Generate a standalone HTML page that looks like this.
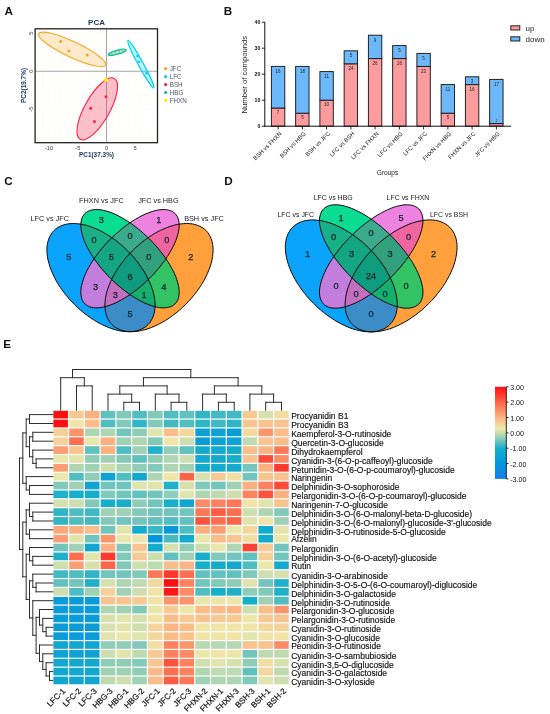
<!DOCTYPE html>
<html><head><meta charset="utf-8"><title>Figure</title>
<style>
html,body{margin:0;padding:0;background:#fff;}
svg{display:block;font-family:"Liberation Sans",sans-serif;}
</style></head><body>
<svg width="550" height="714" viewBox="0 0 550 714">
<rect width="550" height="714" fill="#fff"/>
<g id="pca">
<line x1="37.5" y1="28.8" x2="37.5" y2="142.7" stroke="#fffbee" stroke-width="0.6"/>
<line x1="43.2" y1="28.8" x2="43.2" y2="142.7" stroke="#fffbee" stroke-width="0.6"/>
<line x1="49.0" y1="28.8" x2="49.0" y2="142.7" stroke="#fffbee" stroke-width="0.6"/>
<line x1="54.8" y1="28.8" x2="54.8" y2="142.7" stroke="#fffbee" stroke-width="0.6"/>
<line x1="60.5" y1="28.8" x2="60.5" y2="142.7" stroke="#fffbee" stroke-width="0.6"/>
<line x1="66.2" y1="28.8" x2="66.2" y2="142.7" stroke="#fffbee" stroke-width="0.6"/>
<line x1="72.0" y1="28.8" x2="72.0" y2="142.7" stroke="#fffbee" stroke-width="0.6"/>
<line x1="77.8" y1="28.8" x2="77.8" y2="142.7" stroke="#fffbee" stroke-width="0.6"/>
<line x1="83.5" y1="28.8" x2="83.5" y2="142.7" stroke="#fffbee" stroke-width="0.6"/>
<line x1="89.2" y1="28.8" x2="89.2" y2="142.7" stroke="#fffbee" stroke-width="0.6"/>
<line x1="95.0" y1="28.8" x2="95.0" y2="142.7" stroke="#fffbee" stroke-width="0.6"/>
<line x1="100.8" y1="28.8" x2="100.8" y2="142.7" stroke="#fffbee" stroke-width="0.6"/>
<line x1="112.2" y1="28.8" x2="112.2" y2="142.7" stroke="#fffbee" stroke-width="0.6"/>
<line x1="118.0" y1="28.8" x2="118.0" y2="142.7" stroke="#fffbee" stroke-width="0.6"/>
<line x1="123.8" y1="28.8" x2="123.8" y2="142.7" stroke="#fffbee" stroke-width="0.6"/>
<line x1="129.5" y1="28.8" x2="129.5" y2="142.7" stroke="#fffbee" stroke-width="0.6"/>
<line x1="135.2" y1="28.8" x2="135.2" y2="142.7" stroke="#fffbee" stroke-width="0.6"/>
<line x1="141.0" y1="28.8" x2="141.0" y2="142.7" stroke="#fffbee" stroke-width="0.6"/>
<line x1="146.8" y1="28.8" x2="146.8" y2="142.7" stroke="#fffbee" stroke-width="0.6"/>
<line x1="152.5" y1="28.8" x2="152.5" y2="142.7" stroke="#fffbee" stroke-width="0.6"/>
<line x1="35.1" y1="139.6" x2="157.5" y2="139.6" stroke="#fffbee" stroke-width="0.6"/>
<line x1="35.1" y1="132.0" x2="157.5" y2="132.0" stroke="#fffbee" stroke-width="0.6"/>
<line x1="35.1" y1="124.4" x2="157.5" y2="124.4" stroke="#fffbee" stroke-width="0.6"/>
<line x1="35.1" y1="116.8" x2="157.5" y2="116.8" stroke="#fffbee" stroke-width="0.6"/>
<line x1="35.1" y1="109.2" x2="157.5" y2="109.2" stroke="#fffbee" stroke-width="0.6"/>
<line x1="35.1" y1="101.6" x2="157.5" y2="101.6" stroke="#fffbee" stroke-width="0.6"/>
<line x1="35.1" y1="94.0" x2="157.5" y2="94.0" stroke="#fffbee" stroke-width="0.6"/>
<line x1="35.1" y1="86.4" x2="157.5" y2="86.4" stroke="#fffbee" stroke-width="0.6"/>
<line x1="35.1" y1="78.8" x2="157.5" y2="78.8" stroke="#fffbee" stroke-width="0.6"/>
<line x1="35.1" y1="63.6" x2="157.5" y2="63.6" stroke="#fffbee" stroke-width="0.6"/>
<line x1="35.1" y1="56.0" x2="157.5" y2="56.0" stroke="#fffbee" stroke-width="0.6"/>
<line x1="35.1" y1="48.4" x2="157.5" y2="48.4" stroke="#fffbee" stroke-width="0.6"/>
<line x1="35.1" y1="40.8" x2="157.5" y2="40.8" stroke="#fffbee" stroke-width="0.6"/>
<line x1="35.1" y1="33.2" x2="157.5" y2="33.2" stroke="#fffbee" stroke-width="0.6"/>
<line x1="106.5" y1="28.8" x2="106.5" y2="142.7" stroke="#a6a6a6" stroke-width="1.1"/>
<line x1="35.1" y1="71.2" x2="157.5" y2="71.2" stroke="#a6a6a6" stroke-width="1.1"/>
<ellipse cx="72.1" cy="49.4" rx="36.9" ry="7.8" transform="rotate(25.2 72.1 49.4)" fill="rgba(250,170,50,0.25)" stroke="#f5a623" stroke-width="1.1"/>
<ellipse cx="97.25" cy="108.85" rx="34.9" ry="12.5" transform="rotate(-60.6 97.25 108.85)" fill="rgba(245,60,90,0.32)" stroke="#ff1f4b" stroke-width="1.1"/>
<ellipse cx="140.9" cy="64.3" rx="27" ry="2.5" transform="rotate(61.4 140.9 64.3)" fill="rgba(0,210,245,0.25)" stroke="#00d2f5" stroke-width="1.2"/>
<ellipse cx="117.3" cy="52.3" rx="9.2" ry="2.0" transform="rotate(-15.3 117.3 52.3)" fill="rgba(23,184,144,0.55)" stroke="#17b890" stroke-width="1.3"/>
<circle cx="60.7" cy="41.6" r="1.5" fill="#f7a325"/>
<circle cx="68.9" cy="51.1" r="1.5" fill="#f7a325"/>
<circle cx="87.2" cy="54.9" r="1.5" fill="#f7a325"/>
<circle cx="106" cy="96.8" r="1.5" fill="#ff1f4b"/>
<circle cx="90.7" cy="108.3" r="1.5" fill="#ff1f4b"/>
<circle cx="94.5" cy="121.6" r="1.5" fill="#ff1f4b"/>
<circle cx="137.5" cy="56.1" r="1.3" fill="#00d2f5"/>
<circle cx="139.1" cy="61.8" r="1.3" fill="#00d2f5"/>
<circle cx="146.5" cy="73.3" r="1.3" fill="#00d2f5"/>
<circle cx="113.5" cy="53.3" r="0.9" fill="#d9f5ec"/>
<circle cx="117.3" cy="52.3" r="0.9" fill="#d9f5ec"/>
<circle cx="121" cy="51.3" r="0.9" fill="#d9f5ec"/>
<circle cx="106" cy="79.8" r="2.0" fill="#ffee00"/>
<rect x="35.1" y="28.8" width="122.4" height="113.89999999999999" fill="none" stroke="#222" stroke-width="1.3"/>
<text x="49.0" y="149.8" font-size="5.7" text-anchor="middle" fill="#333">-10</text>
<text x="77.8" y="149.8" font-size="5.7" text-anchor="middle" fill="#333">-5</text>
<text x="106.5" y="149.8" font-size="5.7" text-anchor="middle" fill="#333">0</text>
<text x="135.2" y="149.8" font-size="5.7" text-anchor="middle" fill="#333">5</text>
<text transform="translate(33.3,109.2) rotate(-90)" font-size="5.7" text-anchor="middle" fill="#333">-5</text>
<text transform="translate(33.3,71.2) rotate(-90)" font-size="5.7" text-anchor="middle" fill="#333">0</text>
<text transform="translate(33.3,33.2) rotate(-90)" font-size="5.7" text-anchor="middle" fill="#333">5</text>
<text x="96.5" y="24.5" font-size="8" font-weight="bold" text-anchor="middle" fill="#1f3864">PCA</text>
<text x="96.5" y="157.3" font-size="6.45" font-weight="bold" text-anchor="middle" fill="#1f3864">PC1(37.3%)</text>
<text transform="translate(26.1,85.5) rotate(-90)" font-size="6.45" font-weight="bold" text-anchor="middle" fill="#1f3864">PC2(19.7%)</text>
<circle cx="165.6" cy="68.7" r="1.6" fill="#f7a325"/>
<text x="169.7" y="71.0" font-size="6.3" fill="#4a5a75">JFC</text>
<circle cx="165.6" cy="76.7" r="1.6" fill="#00d2f5"/>
<text x="169.7" y="79.0" font-size="6.3" fill="#4a5a75">LFC</text>
<circle cx="165.6" cy="84.6" r="1.6" fill="#ff1f4b"/>
<text x="169.7" y="86.9" font-size="6.3" fill="#4a5a75">BSH</text>
<circle cx="165.6" cy="92.5" r="1.6" fill="#17b890"/>
<text x="169.7" y="94.8" font-size="6.3" fill="#4a5a75">HBG</text>
<circle cx="165.6" cy="100.4" r="1.6" fill="#ffee00"/>
<text x="169.7" y="102.7" font-size="6.3" fill="#4a5a75">FHXN</text>
</g>
<g id="bar">
<rect x="271.40" y="108.00" width="13.4" height="18.20" fill="#fd9c9f" stroke="#1a1a1a" stroke-width="0.95"/>
<rect x="271.40" y="66.40" width="13.4" height="41.60" fill="#6db8fa" stroke="#1a1a1a" stroke-width="0.95"/>
<text x="278.1" y="114.1" font-size="4.5" text-anchor="middle" fill="#222">7</text>
<text x="278.1" y="72.8" font-size="4.5" text-anchor="middle" fill="#222">16</text>
<line x1="278.1" y1="126.2" x2="278.1" y2="129.4" stroke="#111" stroke-width="0.9"/>
<text transform="translate(282.0,134.1) rotate(-45)" font-size="5.9" text-anchor="end" fill="#222">BSH vs FHXN</text>
<rect x="295.65" y="113.20" width="13.4" height="13.00" fill="#fd9c9f" stroke="#1a1a1a" stroke-width="0.95"/>
<rect x="295.65" y="66.40" width="13.4" height="46.80" fill="#6db8fa" stroke="#1a1a1a" stroke-width="0.95"/>
<text x="302.4" y="119.3" font-size="4.5" text-anchor="middle" fill="#222">5</text>
<text x="302.4" y="72.8" font-size="4.5" text-anchor="middle" fill="#222">18</text>
<line x1="302.4" y1="126.2" x2="302.4" y2="129.4" stroke="#111" stroke-width="0.9"/>
<text transform="translate(306.2,134.1) rotate(-45)" font-size="5.9" text-anchor="end" fill="#222">BSH vs HBG</text>
<rect x="319.90" y="100.20" width="13.4" height="26.00" fill="#fd9c9f" stroke="#1a1a1a" stroke-width="0.95"/>
<rect x="319.90" y="71.60" width="13.4" height="28.60" fill="#6db8fa" stroke="#1a1a1a" stroke-width="0.95"/>
<text x="326.6" y="106.3" font-size="4.5" text-anchor="middle" fill="#222">10</text>
<text x="326.6" y="78.0" font-size="4.5" text-anchor="middle" fill="#222">11</text>
<line x1="326.6" y1="126.2" x2="326.6" y2="129.4" stroke="#111" stroke-width="0.9"/>
<text transform="translate(330.5,134.1) rotate(-45)" font-size="5.9" text-anchor="end" fill="#222">BSH vs JFC</text>
<rect x="344.15" y="63.80" width="13.4" height="62.40" fill="#fd9c9f" stroke="#1a1a1a" stroke-width="0.95"/>
<rect x="344.15" y="50.80" width="13.4" height="13.00" fill="#6db8fa" stroke="#1a1a1a" stroke-width="0.95"/>
<text x="350.9" y="69.9" font-size="4.5" text-anchor="middle" fill="#222">24</text>
<text x="350.9" y="57.2" font-size="4.5" text-anchor="middle" fill="#222">5</text>
<line x1="350.9" y1="126.2" x2="350.9" y2="129.4" stroke="#111" stroke-width="0.9"/>
<text transform="translate(354.8,134.1) rotate(-45)" font-size="5.9" text-anchor="end" fill="#222">LFC vs BSH</text>
<rect x="368.40" y="58.60" width="13.4" height="67.60" fill="#fd9c9f" stroke="#1a1a1a" stroke-width="0.95"/>
<rect x="368.40" y="35.20" width="13.4" height="23.40" fill="#6db8fa" stroke="#1a1a1a" stroke-width="0.95"/>
<text x="375.1" y="64.7" font-size="4.5" text-anchor="middle" fill="#222">26</text>
<text x="375.1" y="41.6" font-size="4.5" text-anchor="middle" fill="#222">9</text>
<line x1="375.1" y1="126.2" x2="375.1" y2="129.4" stroke="#111" stroke-width="0.9"/>
<text transform="translate(379.0,134.1) rotate(-45)" font-size="5.9" text-anchor="end" fill="#222">LFC vs FHXN</text>
<rect x="392.65" y="58.60" width="13.4" height="67.60" fill="#fd9c9f" stroke="#1a1a1a" stroke-width="0.95"/>
<rect x="392.65" y="45.60" width="13.4" height="13.00" fill="#6db8fa" stroke="#1a1a1a" stroke-width="0.95"/>
<text x="399.4" y="64.7" font-size="4.5" text-anchor="middle" fill="#222">26</text>
<text x="399.4" y="52.0" font-size="4.5" text-anchor="middle" fill="#222">5</text>
<line x1="399.4" y1="126.2" x2="399.4" y2="129.4" stroke="#111" stroke-width="0.9"/>
<text transform="translate(403.2,134.1) rotate(-45)" font-size="5.9" text-anchor="end" fill="#222">LFC vs HBG</text>
<rect x="416.90" y="66.40" width="13.4" height="59.80" fill="#fd9c9f" stroke="#1a1a1a" stroke-width="0.95"/>
<rect x="416.90" y="53.40" width="13.4" height="13.00" fill="#6db8fa" stroke="#1a1a1a" stroke-width="0.95"/>
<text x="423.6" y="72.5" font-size="4.5" text-anchor="middle" fill="#222">23</text>
<text x="423.6" y="59.8" font-size="4.5" text-anchor="middle" fill="#222">5</text>
<line x1="423.6" y1="126.2" x2="423.6" y2="129.4" stroke="#111" stroke-width="0.9"/>
<text transform="translate(427.5,134.1) rotate(-45)" font-size="5.9" text-anchor="end" fill="#222">LFC vs JFC</text>
<rect x="441.15" y="113.20" width="13.4" height="13.00" fill="#fd9c9f" stroke="#1a1a1a" stroke-width="0.95"/>
<rect x="441.15" y="84.60" width="13.4" height="28.60" fill="#6db8fa" stroke="#1a1a1a" stroke-width="0.95"/>
<text x="447.9" y="119.3" font-size="4.5" text-anchor="middle" fill="#222">5</text>
<text x="447.9" y="91.0" font-size="4.5" text-anchor="middle" fill="#222">11</text>
<line x1="447.9" y1="126.2" x2="447.9" y2="129.4" stroke="#111" stroke-width="0.9"/>
<text transform="translate(451.8,134.1) rotate(-45)" font-size="5.9" text-anchor="end" fill="#222">FHXN vs HBG</text>
<rect x="465.40" y="84.60" width="13.4" height="41.60" fill="#fd9c9f" stroke="#1a1a1a" stroke-width="0.95"/>
<rect x="465.40" y="76.80" width="13.4" height="7.80" fill="#6db8fa" stroke="#1a1a1a" stroke-width="0.95"/>
<text x="472.1" y="90.7" font-size="4.5" text-anchor="middle" fill="#222">16</text>
<text x="472.1" y="83.2" font-size="4.5" text-anchor="middle" fill="#222">3</text>
<line x1="472.1" y1="126.2" x2="472.1" y2="129.4" stroke="#111" stroke-width="0.9"/>
<text transform="translate(476.0,134.1) rotate(-45)" font-size="5.9" text-anchor="end" fill="#222">FHXN vs JFC</text>
<rect x="489.65" y="123.60" width="13.4" height="2.60" fill="#fd9c9f" stroke="#1a1a1a" stroke-width="0.95"/>
<rect x="489.65" y="79.40" width="13.4" height="44.20" fill="#6db8fa" stroke="#1a1a1a" stroke-width="0.95"/>
<text x="496.4" y="122.4" font-size="3.4" text-anchor="middle" fill="#222">1</text>
<text x="496.4" y="85.8" font-size="4.5" text-anchor="middle" fill="#222">17</text>
<line x1="496.4" y1="126.2" x2="496.4" y2="129.4" stroke="#111" stroke-width="0.9"/>
<text transform="translate(500.2,134.1) rotate(-45)" font-size="5.9" text-anchor="end" fill="#222">JFC vs HBG</text>
<line x1="264.8" y1="22" x2="264.8" y2="126.7" stroke="#111" stroke-width="1"/>
<line x1="264.3" y1="126.2" x2="511" y2="126.2" stroke="#111" stroke-width="1"/>
<line x1="261.8" y1="126.2" x2="264.8" y2="126.2" stroke="#111" stroke-width="0.9"/>
<text x="260.40000000000003" y="128.0" font-size="5.2" font-weight="bold" text-anchor="end" fill="#111">0</text>
<line x1="261.8" y1="100.2" x2="264.8" y2="100.2" stroke="#111" stroke-width="0.9"/>
<text x="260.40000000000003" y="102.0" font-size="5.2" font-weight="bold" text-anchor="end" fill="#111">10</text>
<line x1="261.8" y1="74.2" x2="264.8" y2="74.2" stroke="#111" stroke-width="0.9"/>
<text x="260.40000000000003" y="76.0" font-size="5.2" font-weight="bold" text-anchor="end" fill="#111">20</text>
<line x1="261.8" y1="48.2" x2="264.8" y2="48.2" stroke="#111" stroke-width="0.9"/>
<text x="260.40000000000003" y="50.0" font-size="5.2" font-weight="bold" text-anchor="end" fill="#111">30</text>
<line x1="261.8" y1="22.2" x2="264.8" y2="22.2" stroke="#111" stroke-width="0.9"/>
<text x="260.40000000000003" y="24.0" font-size="5.2" font-weight="bold" text-anchor="end" fill="#111">40</text>
<text transform="translate(247.2,74.7) rotate(-90)" font-size="7.7" text-anchor="middle" fill="#222">Number of compounds</text>
<text x="387.5" y="174.5" font-size="6.5" text-anchor="middle" fill="#222">Groups</text>
<rect x="510.8" y="25.8" width="9" height="4.2" fill="#fd9c9f" stroke="#1a1a1a" stroke-width="0.95"/>
<rect x="510.8" y="36.8" width="9" height="4.2" fill="#6db8fa" stroke="#1a1a1a" stroke-width="0.95"/>
<text x="525.5" y="30.7" font-size="8" fill="#222">up</text>
<text x="525.5" y="41.8" font-size="8" fill="#222">down</text>
</g>
<g id="vc">
<defs>
<clipPath id="vcc0"><path d="M148.0 324.6 L146.2 326.3 L144.1 327.7 L141.9 328.9 L139.5 329.9 L136.9 330.7 L134.2 331.3 L131.4 331.6 L128.4 331.7 L125.2 331.5 L122.0 331.2 L118.7 330.6 L115.4 329.8 L111.9 328.7 L108.4 327.4 L104.9 325.9 L101.4 324.3 L97.8 322.4 L94.3 320.3 L90.8 318.0 L87.4 315.6 L84.0 313.0 L80.6 310.2 L77.4 307.3 L74.3 304.3 L71.3 301.2 L68.4 298.0 L65.6 294.6 L63.0 291.2 L60.6 287.8 L58.3 284.3 L56.2 280.8 L54.3 277.2 L52.7 273.7 L51.2 270.2 L49.9 266.7 L48.9 263.2 L48.0 259.9 L47.4 256.6 L47.1 253.4 L46.9 250.2 L47.0 247.2 L47.3 244.4 L47.9 241.7 L48.7 239.1 L49.7 236.7 L50.9 234.5 L52.3 232.4 L54.0 230.6 L55.8 228.9 L57.9 227.5 L60.1 226.3 L62.5 225.3 L65.1 224.5 L67.8 223.9 L70.6 223.6 L73.6 223.5 L76.8 223.7 L80.0 224.0 L83.3 224.6 L86.6 225.5 L90.1 226.5 L93.6 227.8 L97.1 229.3 L100.6 230.9 L104.2 232.8 L107.7 234.9 L111.2 237.2 L114.6 239.6 L118.0 242.2 L121.4 245.0 L124.6 247.9 L127.7 250.9 L130.7 254.0 L133.6 257.2 L136.4 260.6 L139.0 264.0 L141.4 267.4 L143.7 270.9 L145.8 274.4 L147.7 278.0 L149.3 281.5 L150.8 285.0 L152.1 288.5 L153.2 292.0 L154.0 295.3 L154.6 298.6 L154.9 301.8 L155.1 305.0 L155.0 308.0 L154.7 310.8 L154.1 313.5 L153.3 316.1 L152.3 318.5 L151.1 320.7 L149.7 322.8Z"/></clipPath>
<clipPath id="vcc1"><path d="M175.1 303.8 L173.7 305.0 L172.2 306.0 L170.4 306.8 L168.5 307.3 L166.4 307.7 L164.2 307.9 L161.8 307.8 L159.3 307.6 L156.6 307.1 L153.9 306.4 L151.0 305.5 L148.1 304.4 L145.0 303.2 L141.9 301.7 L138.8 300.0 L135.6 298.2 L132.4 296.2 L129.2 294.1 L126.0 291.7 L122.8 289.3 L119.6 286.7 L116.5 284.0 L113.4 281.2 L110.4 278.3 L107.5 275.3 L104.7 272.2 L102.0 269.1 L99.4 265.9 L97.0 262.7 L94.6 259.5 L92.5 256.3 L90.5 253.1 L88.7 249.9 L87.0 246.8 L85.5 243.7 L84.2 240.6 L83.2 237.7 L82.3 234.8 L81.6 232.1 L81.1 229.4 L80.9 226.9 L80.8 224.5 L81.0 222.3 L81.4 220.2 L81.9 218.3 L82.7 216.5 L83.7 215.0 L84.9 213.6 L86.3 212.4 L87.8 211.4 L89.6 210.6 L91.5 210.1 L93.6 209.7 L95.8 209.5 L98.2 209.6 L100.7 209.8 L103.4 210.3 L106.1 211.0 L109.0 211.9 L111.9 212.9 L115.0 214.2 L118.1 215.7 L121.2 217.4 L124.4 219.2 L127.6 221.2 L130.8 223.3 L134.0 225.7 L137.2 228.1 L140.4 230.7 L143.5 233.4 L146.6 236.2 L149.6 239.1 L152.5 242.1 L155.3 245.2 L158.0 248.3 L160.6 251.5 L163.0 254.7 L165.4 257.9 L167.5 261.1 L169.5 264.3 L171.3 267.5 L173.0 270.6 L174.5 273.7 L175.8 276.7 L176.8 279.7 L177.7 282.6 L178.4 285.3 L178.9 288.0 L179.1 290.5 L179.2 292.9 L179.0 295.1 L178.6 297.2 L178.1 299.1 L177.3 300.9 L176.3 302.4Z"/></clipPath>
<clipPath id="vcc2"><path d="M175.1 213.6 L176.3 215.0 L177.3 216.5 L178.1 218.3 L178.6 220.2 L179.0 222.3 L179.2 224.5 L179.1 226.9 L178.9 229.4 L178.4 232.1 L177.7 234.8 L176.8 237.7 L175.8 240.6 L174.5 243.7 L173.0 246.8 L171.3 249.9 L169.5 253.1 L167.5 256.3 L165.4 259.5 L163.0 262.7 L160.6 265.9 L158.0 269.1 L155.3 272.2 L152.5 275.3 L149.6 278.3 L146.6 281.2 L143.5 284.0 L140.4 286.7 L137.2 289.3 L134.0 291.7 L130.8 294.1 L127.6 296.2 L124.4 298.2 L121.2 300.0 L118.1 301.7 L115.0 303.2 L111.9 304.4 L109.0 305.5 L106.1 306.4 L103.4 307.1 L100.7 307.6 L98.2 307.8 L95.8 307.9 L93.6 307.7 L91.5 307.3 L89.6 306.8 L87.8 306.0 L86.3 305.0 L84.9 303.8 L83.7 302.4 L82.7 300.9 L81.9 299.1 L81.4 297.2 L81.0 295.1 L80.8 292.9 L80.9 290.5 L81.1 288.0 L81.6 285.3 L82.3 282.6 L83.2 279.7 L84.2 276.8 L85.5 273.7 L87.0 270.6 L88.7 267.5 L90.5 264.3 L92.5 261.1 L94.6 257.9 L97.0 254.7 L99.4 251.5 L102.0 248.3 L104.7 245.2 L107.5 242.1 L110.4 239.1 L113.4 236.2 L116.5 233.4 L119.6 230.7 L122.8 228.1 L126.0 225.7 L129.2 223.3 L132.4 221.2 L135.6 219.2 L138.8 217.4 L141.9 215.7 L145.0 214.2 L148.1 213.0 L151.0 211.9 L153.9 211.0 L156.6 210.3 L159.3 209.8 L161.8 209.6 L164.2 209.5 L166.4 209.7 L168.5 210.1 L170.4 210.6 L172.2 211.4 L173.7 212.4Z"/></clipPath>
<clipPath id="vcc3"><path d="M206.0 230.6 L207.7 232.4 L209.1 234.5 L210.3 236.7 L211.3 239.1 L212.1 241.7 L212.7 244.4 L213.0 247.2 L213.1 250.2 L212.9 253.4 L212.6 256.6 L212.0 259.9 L211.2 263.2 L210.1 266.7 L208.8 270.2 L207.3 273.7 L205.7 277.2 L203.8 280.8 L201.7 284.3 L199.4 287.8 L197.0 291.2 L194.4 294.6 L191.6 298.0 L188.7 301.2 L185.7 304.3 L182.6 307.3 L179.4 310.2 L176.0 313.0 L172.6 315.6 L169.2 318.0 L165.7 320.3 L162.2 322.4 L158.6 324.3 L155.1 325.9 L151.6 327.4 L148.1 328.7 L144.7 329.8 L141.3 330.6 L138.0 331.2 L134.8 331.5 L131.6 331.7 L128.6 331.6 L125.8 331.3 L123.1 330.7 L120.5 329.9 L118.1 328.9 L115.9 327.7 L113.8 326.3 L112.0 324.6 L110.3 322.8 L108.9 320.7 L107.7 318.5 L106.7 316.1 L105.9 313.5 L105.3 310.8 L105.0 308.0 L104.9 305.0 L105.1 301.8 L105.4 298.6 L106.0 295.3 L106.8 292.0 L107.9 288.5 L109.2 285.0 L110.7 281.5 L112.3 278.0 L114.2 274.4 L116.3 270.9 L118.6 267.4 L121.0 264.0 L123.6 260.6 L126.4 257.2 L129.3 254.0 L132.3 250.9 L135.4 247.9 L138.6 245.0 L142.0 242.2 L145.4 239.6 L148.8 237.2 L152.3 234.9 L155.8 232.8 L159.4 230.9 L162.9 229.3 L166.4 227.8 L169.9 226.5 L173.3 225.5 L176.7 224.6 L180.0 224.0 L183.2 223.7 L186.4 223.5 L189.4 223.6 L192.2 223.9 L194.9 224.5 L197.5 225.3 L199.9 226.3 L202.1 227.5 L204.2 228.9Z"/></clipPath>
</defs>
<path d="M148.0 324.6 L146.2 326.3 L144.1 327.7 L141.9 328.9 L139.5 329.9 L136.9 330.7 L134.2 331.3 L131.4 331.6 L128.4 331.7 L125.2 331.5 L122.0 331.2 L118.7 330.6 L115.4 329.8 L111.9 328.7 L108.4 327.4 L104.9 325.9 L101.4 324.3 L97.8 322.4 L94.3 320.3 L90.8 318.0 L87.4 315.6 L84.0 313.0 L80.6 310.2 L77.4 307.3 L74.3 304.3 L71.3 301.2 L68.4 298.0 L65.6 294.6 L63.0 291.2 L60.6 287.8 L58.3 284.3 L56.2 280.8 L54.3 277.2 L52.7 273.7 L51.2 270.2 L49.9 266.7 L48.9 263.2 L48.0 259.9 L47.4 256.6 L47.1 253.4 L46.9 250.2 L47.0 247.2 L47.3 244.4 L47.9 241.7 L48.7 239.1 L49.7 236.7 L50.9 234.5 L52.3 232.4 L54.0 230.6 L55.8 228.9 L57.9 227.5 L60.1 226.3 L62.5 225.3 L65.1 224.5 L67.8 223.9 L70.6 223.6 L73.6 223.5 L76.8 223.7 L80.0 224.0 L83.3 224.6 L86.6 225.5 L90.1 226.5 L93.6 227.8 L97.1 229.3 L100.6 230.9 L104.2 232.8 L107.7 234.9 L111.2 237.2 L114.6 239.6 L118.0 242.2 L121.4 245.0 L124.6 247.9 L127.7 250.9 L130.7 254.0 L133.6 257.2 L136.4 260.6 L139.0 264.0 L141.4 267.4 L143.7 270.9 L145.8 274.4 L147.7 278.0 L149.3 281.5 L150.8 285.0 L152.1 288.5 L153.2 292.0 L154.0 295.3 L154.6 298.6 L154.9 301.8 L155.1 305.0 L155.0 308.0 L154.7 310.8 L154.1 313.5 L153.3 316.1 L152.3 318.5 L151.1 320.7 L149.7 322.8Z" fill="#0ba4fc"/>
<path d="M175.1 303.8 L173.7 305.0 L172.2 306.0 L170.4 306.8 L168.5 307.3 L166.4 307.7 L164.2 307.9 L161.8 307.8 L159.3 307.6 L156.6 307.1 L153.9 306.4 L151.0 305.5 L148.1 304.4 L145.0 303.2 L141.9 301.7 L138.8 300.0 L135.6 298.2 L132.4 296.2 L129.2 294.1 L126.0 291.7 L122.8 289.3 L119.6 286.7 L116.5 284.0 L113.4 281.2 L110.4 278.3 L107.5 275.3 L104.7 272.2 L102.0 269.1 L99.4 265.9 L97.0 262.7 L94.6 259.5 L92.5 256.3 L90.5 253.1 L88.7 249.9 L87.0 246.8 L85.5 243.7 L84.2 240.6 L83.2 237.7 L82.3 234.8 L81.6 232.1 L81.1 229.4 L80.9 226.9 L80.8 224.5 L81.0 222.3 L81.4 220.2 L81.9 218.3 L82.7 216.5 L83.7 215.0 L84.9 213.6 L86.3 212.4 L87.8 211.4 L89.6 210.6 L91.5 210.1 L93.6 209.7 L95.8 209.5 L98.2 209.6 L100.7 209.8 L103.4 210.3 L106.1 211.0 L109.0 211.9 L111.9 212.9 L115.0 214.2 L118.1 215.7 L121.2 217.4 L124.4 219.2 L127.6 221.2 L130.8 223.3 L134.0 225.7 L137.2 228.1 L140.4 230.7 L143.5 233.4 L146.6 236.2 L149.6 239.1 L152.5 242.1 L155.3 245.2 L158.0 248.3 L160.6 251.5 L163.0 254.7 L165.4 257.9 L167.5 261.1 L169.5 264.3 L171.3 267.5 L173.0 270.6 L174.5 273.7 L175.8 276.7 L176.8 279.7 L177.7 282.6 L178.4 285.3 L178.9 288.0 L179.1 290.5 L179.2 292.9 L179.0 295.1 L178.6 297.2 L178.1 299.1 L177.3 300.9 L176.3 302.4Z" fill="#0adc92"/>
<path d="M175.1 213.6 L176.3 215.0 L177.3 216.5 L178.1 218.3 L178.6 220.2 L179.0 222.3 L179.2 224.5 L179.1 226.9 L178.9 229.4 L178.4 232.1 L177.7 234.8 L176.8 237.7 L175.8 240.6 L174.5 243.7 L173.0 246.8 L171.3 249.9 L169.5 253.1 L167.5 256.3 L165.4 259.5 L163.0 262.7 L160.6 265.9 L158.0 269.1 L155.3 272.2 L152.5 275.3 L149.6 278.3 L146.6 281.2 L143.5 284.0 L140.4 286.7 L137.2 289.3 L134.0 291.7 L130.8 294.1 L127.6 296.2 L124.4 298.2 L121.2 300.0 L118.1 301.7 L115.0 303.2 L111.9 304.4 L109.0 305.5 L106.1 306.4 L103.4 307.1 L100.7 307.6 L98.2 307.8 L95.8 307.9 L93.6 307.7 L91.5 307.3 L89.6 306.8 L87.8 306.0 L86.3 305.0 L84.9 303.8 L83.7 302.4 L82.7 300.9 L81.9 299.1 L81.4 297.2 L81.0 295.1 L80.8 292.9 L80.9 290.5 L81.1 288.0 L81.6 285.3 L82.3 282.6 L83.2 279.7 L84.2 276.8 L85.5 273.7 L87.0 270.6 L88.7 267.5 L90.5 264.3 L92.5 261.1 L94.6 257.9 L97.0 254.7 L99.4 251.5 L102.0 248.3 L104.7 245.2 L107.5 242.1 L110.4 239.1 L113.4 236.2 L116.5 233.4 L119.6 230.7 L122.8 228.1 L126.0 225.7 L129.2 223.3 L132.4 221.2 L135.6 219.2 L138.8 217.4 L141.9 215.7 L145.0 214.2 L148.1 213.0 L151.0 211.9 L153.9 211.0 L156.6 210.3 L159.3 209.8 L161.8 209.6 L164.2 209.5 L166.4 209.7 L168.5 210.1 L170.4 210.6 L172.2 211.4 L173.7 212.4Z" fill="#ee82e1"/>
<path d="M206.0 230.6 L207.7 232.4 L209.1 234.5 L210.3 236.7 L211.3 239.1 L212.1 241.7 L212.7 244.4 L213.0 247.2 L213.1 250.2 L212.9 253.4 L212.6 256.6 L212.0 259.9 L211.2 263.2 L210.1 266.7 L208.8 270.2 L207.3 273.7 L205.7 277.2 L203.8 280.8 L201.7 284.3 L199.4 287.8 L197.0 291.2 L194.4 294.6 L191.6 298.0 L188.7 301.2 L185.7 304.3 L182.6 307.3 L179.4 310.2 L176.0 313.0 L172.6 315.6 L169.2 318.0 L165.7 320.3 L162.2 322.4 L158.6 324.3 L155.1 325.9 L151.6 327.4 L148.1 328.7 L144.7 329.8 L141.3 330.6 L138.0 331.2 L134.8 331.5 L131.6 331.7 L128.6 331.6 L125.8 331.3 L123.1 330.7 L120.5 329.9 L118.1 328.9 L115.9 327.7 L113.8 326.3 L112.0 324.6 L110.3 322.8 L108.9 320.7 L107.7 318.5 L106.7 316.1 L105.9 313.5 L105.3 310.8 L105.0 308.0 L104.9 305.0 L105.1 301.8 L105.4 298.6 L106.0 295.3 L106.8 292.0 L107.9 288.5 L109.2 285.0 L110.7 281.5 L112.3 278.0 L114.2 274.4 L116.3 270.9 L118.6 267.4 L121.0 264.0 L123.6 260.6 L126.4 257.2 L129.3 254.0 L132.3 250.9 L135.4 247.9 L138.6 245.0 L142.0 242.2 L145.4 239.6 L148.8 237.2 L152.3 234.9 L155.8 232.8 L159.4 230.9 L162.9 229.3 L166.4 227.8 L169.9 226.5 L173.3 225.5 L176.7 224.6 L180.0 224.0 L183.2 223.7 L186.4 223.5 L189.4 223.6 L192.2 223.9 L194.9 224.5 L197.5 225.3 L199.9 226.3 L202.1 227.5 L204.2 228.9Z" fill="#ffa03c"/>
<g clip-path="url(#vcc1)"><path d="M148.0 324.6 L146.2 326.3 L144.1 327.7 L141.9 328.9 L139.5 329.9 L136.9 330.7 L134.2 331.3 L131.4 331.6 L128.4 331.7 L125.2 331.5 L122.0 331.2 L118.7 330.6 L115.4 329.8 L111.9 328.7 L108.4 327.4 L104.9 325.9 L101.4 324.3 L97.8 322.4 L94.3 320.3 L90.8 318.0 L87.4 315.6 L84.0 313.0 L80.6 310.2 L77.4 307.3 L74.3 304.3 L71.3 301.2 L68.4 298.0 L65.6 294.6 L63.0 291.2 L60.6 287.8 L58.3 284.3 L56.2 280.8 L54.3 277.2 L52.7 273.7 L51.2 270.2 L49.9 266.7 L48.9 263.2 L48.0 259.9 L47.4 256.6 L47.1 253.4 L46.9 250.2 L47.0 247.2 L47.3 244.4 L47.9 241.7 L48.7 239.1 L49.7 236.7 L50.9 234.5 L52.3 232.4 L54.0 230.6 L55.8 228.9 L57.9 227.5 L60.1 226.3 L62.5 225.3 L65.1 224.5 L67.8 223.9 L70.6 223.6 L73.6 223.5 L76.8 223.7 L80.0 224.0 L83.3 224.6 L86.6 225.5 L90.1 226.5 L93.6 227.8 L97.1 229.3 L100.6 230.9 L104.2 232.8 L107.7 234.9 L111.2 237.2 L114.6 239.6 L118.0 242.2 L121.4 245.0 L124.6 247.9 L127.7 250.9 L130.7 254.0 L133.6 257.2 L136.4 260.6 L139.0 264.0 L141.4 267.4 L143.7 270.9 L145.8 274.4 L147.7 278.0 L149.3 281.5 L150.8 285.0 L152.1 288.5 L153.2 292.0 L154.0 295.3 L154.6 298.6 L154.9 301.8 L155.1 305.0 L155.0 308.0 L154.7 310.8 L154.1 313.5 L153.3 316.1 L152.3 318.5 L151.1 320.7 L149.7 322.8Z" fill="#19af87"/></g>
<g clip-path="url(#vcc2)"><path d="M148.0 324.6 L146.2 326.3 L144.1 327.7 L141.9 328.9 L139.5 329.9 L136.9 330.7 L134.2 331.3 L131.4 331.6 L128.4 331.7 L125.2 331.5 L122.0 331.2 L118.7 330.6 L115.4 329.8 L111.9 328.7 L108.4 327.4 L104.9 325.9 L101.4 324.3 L97.8 322.4 L94.3 320.3 L90.8 318.0 L87.4 315.6 L84.0 313.0 L80.6 310.2 L77.4 307.3 L74.3 304.3 L71.3 301.2 L68.4 298.0 L65.6 294.6 L63.0 291.2 L60.6 287.8 L58.3 284.3 L56.2 280.8 L54.3 277.2 L52.7 273.7 L51.2 270.2 L49.9 266.7 L48.9 263.2 L48.0 259.9 L47.4 256.6 L47.1 253.4 L46.9 250.2 L47.0 247.2 L47.3 244.4 L47.9 241.7 L48.7 239.1 L49.7 236.7 L50.9 234.5 L52.3 232.4 L54.0 230.6 L55.8 228.9 L57.9 227.5 L60.1 226.3 L62.5 225.3 L65.1 224.5 L67.8 223.9 L70.6 223.6 L73.6 223.5 L76.8 223.7 L80.0 224.0 L83.3 224.6 L86.6 225.5 L90.1 226.5 L93.6 227.8 L97.1 229.3 L100.6 230.9 L104.2 232.8 L107.7 234.9 L111.2 237.2 L114.6 239.6 L118.0 242.2 L121.4 245.0 L124.6 247.9 L127.7 250.9 L130.7 254.0 L133.6 257.2 L136.4 260.6 L139.0 264.0 L141.4 267.4 L143.7 270.9 L145.8 274.4 L147.7 278.0 L149.3 281.5 L150.8 285.0 L152.1 288.5 L153.2 292.0 L154.0 295.3 L154.6 298.6 L154.9 301.8 L155.1 305.0 L155.0 308.0 L154.7 310.8 L154.1 313.5 L153.3 316.1 L152.3 318.5 L151.1 320.7 L149.7 322.8Z" fill="#c37ddc"/></g>
<g clip-path="url(#vcc3)"><path d="M148.0 324.6 L146.2 326.3 L144.1 327.7 L141.9 328.9 L139.5 329.9 L136.9 330.7 L134.2 331.3 L131.4 331.6 L128.4 331.7 L125.2 331.5 L122.0 331.2 L118.7 330.6 L115.4 329.8 L111.9 328.7 L108.4 327.4 L104.9 325.9 L101.4 324.3 L97.8 322.4 L94.3 320.3 L90.8 318.0 L87.4 315.6 L84.0 313.0 L80.6 310.2 L77.4 307.3 L74.3 304.3 L71.3 301.2 L68.4 298.0 L65.6 294.6 L63.0 291.2 L60.6 287.8 L58.3 284.3 L56.2 280.8 L54.3 277.2 L52.7 273.7 L51.2 270.2 L49.9 266.7 L48.9 263.2 L48.0 259.9 L47.4 256.6 L47.1 253.4 L46.9 250.2 L47.0 247.2 L47.3 244.4 L47.9 241.7 L48.7 239.1 L49.7 236.7 L50.9 234.5 L52.3 232.4 L54.0 230.6 L55.8 228.9 L57.9 227.5 L60.1 226.3 L62.5 225.3 L65.1 224.5 L67.8 223.9 L70.6 223.6 L73.6 223.5 L76.8 223.7 L80.0 224.0 L83.3 224.6 L86.6 225.5 L90.1 226.5 L93.6 227.8 L97.1 229.3 L100.6 230.9 L104.2 232.8 L107.7 234.9 L111.2 237.2 L114.6 239.6 L118.0 242.2 L121.4 245.0 L124.6 247.9 L127.7 250.9 L130.7 254.0 L133.6 257.2 L136.4 260.6 L139.0 264.0 L141.4 267.4 L143.7 270.9 L145.8 274.4 L147.7 278.0 L149.3 281.5 L150.8 285.0 L152.1 288.5 L153.2 292.0 L154.0 295.3 L154.6 298.6 L154.9 301.8 L155.1 305.0 L155.0 308.0 L154.7 310.8 L154.1 313.5 L153.3 316.1 L152.3 318.5 L151.1 320.7 L149.7 322.8Z" fill="#3c8cc8"/></g>
<g clip-path="url(#vcc2)"><path d="M175.1 303.8 L173.7 305.0 L172.2 306.0 L170.4 306.8 L168.5 307.3 L166.4 307.7 L164.2 307.9 L161.8 307.8 L159.3 307.6 L156.6 307.1 L153.9 306.4 L151.0 305.5 L148.1 304.4 L145.0 303.2 L141.9 301.7 L138.8 300.0 L135.6 298.2 L132.4 296.2 L129.2 294.1 L126.0 291.7 L122.8 289.3 L119.6 286.7 L116.5 284.0 L113.4 281.2 L110.4 278.3 L107.5 275.3 L104.7 272.2 L102.0 269.1 L99.4 265.9 L97.0 262.7 L94.6 259.5 L92.5 256.3 L90.5 253.1 L88.7 249.9 L87.0 246.8 L85.5 243.7 L84.2 240.6 L83.2 237.7 L82.3 234.8 L81.6 232.1 L81.1 229.4 L80.9 226.9 L80.8 224.5 L81.0 222.3 L81.4 220.2 L81.9 218.3 L82.7 216.5 L83.7 215.0 L84.9 213.6 L86.3 212.4 L87.8 211.4 L89.6 210.6 L91.5 210.1 L93.6 209.7 L95.8 209.5 L98.2 209.6 L100.7 209.8 L103.4 210.3 L106.1 211.0 L109.0 211.9 L111.9 212.9 L115.0 214.2 L118.1 215.7 L121.2 217.4 L124.4 219.2 L127.6 221.2 L130.8 223.3 L134.0 225.7 L137.2 228.1 L140.4 230.7 L143.5 233.4 L146.6 236.2 L149.6 239.1 L152.5 242.1 L155.3 245.2 L158.0 248.3 L160.6 251.5 L163.0 254.7 L165.4 257.9 L167.5 261.1 L169.5 264.3 L171.3 267.5 L173.0 270.6 L174.5 273.7 L175.8 276.7 L176.8 279.7 L177.7 282.6 L178.4 285.3 L178.9 288.0 L179.1 290.5 L179.2 292.9 L179.0 295.1 L178.6 297.2 L178.1 299.1 L177.3 300.9 L176.3 302.4Z" fill="#3caa8c"/></g>
<g clip-path="url(#vcc3)"><path d="M175.1 303.8 L173.7 305.0 L172.2 306.0 L170.4 306.8 L168.5 307.3 L166.4 307.7 L164.2 307.9 L161.8 307.8 L159.3 307.6 L156.6 307.1 L153.9 306.4 L151.0 305.5 L148.1 304.4 L145.0 303.2 L141.9 301.7 L138.8 300.0 L135.6 298.2 L132.4 296.2 L129.2 294.1 L126.0 291.7 L122.8 289.3 L119.6 286.7 L116.5 284.0 L113.4 281.2 L110.4 278.3 L107.5 275.3 L104.7 272.2 L102.0 269.1 L99.4 265.9 L97.0 262.7 L94.6 259.5 L92.5 256.3 L90.5 253.1 L88.7 249.9 L87.0 246.8 L85.5 243.7 L84.2 240.6 L83.2 237.7 L82.3 234.8 L81.6 232.1 L81.1 229.4 L80.9 226.9 L80.8 224.5 L81.0 222.3 L81.4 220.2 L81.9 218.3 L82.7 216.5 L83.7 215.0 L84.9 213.6 L86.3 212.4 L87.8 211.4 L89.6 210.6 L91.5 210.1 L93.6 209.7 L95.8 209.5 L98.2 209.6 L100.7 209.8 L103.4 210.3 L106.1 211.0 L109.0 211.9 L111.9 212.9 L115.0 214.2 L118.1 215.7 L121.2 217.4 L124.4 219.2 L127.6 221.2 L130.8 223.3 L134.0 225.7 L137.2 228.1 L140.4 230.7 L143.5 233.4 L146.6 236.2 L149.6 239.1 L152.5 242.1 L155.3 245.2 L158.0 248.3 L160.6 251.5 L163.0 254.7 L165.4 257.9 L167.5 261.1 L169.5 264.3 L171.3 267.5 L173.0 270.6 L174.5 273.7 L175.8 276.7 L176.8 279.7 L177.7 282.6 L178.4 285.3 L178.9 288.0 L179.1 290.5 L179.2 292.9 L179.0 295.1 L178.6 297.2 L178.1 299.1 L177.3 300.9 L176.3 302.4Z" fill="#32c364"/></g>
<g clip-path="url(#vcc3)"><path d="M175.1 213.6 L176.3 215.0 L177.3 216.5 L178.1 218.3 L178.6 220.2 L179.0 222.3 L179.2 224.5 L179.1 226.9 L178.9 229.4 L178.4 232.1 L177.7 234.8 L176.8 237.7 L175.8 240.6 L174.5 243.7 L173.0 246.8 L171.3 249.9 L169.5 253.1 L167.5 256.3 L165.4 259.5 L163.0 262.7 L160.6 265.9 L158.0 269.1 L155.3 272.2 L152.5 275.3 L149.6 278.3 L146.6 281.2 L143.5 284.0 L140.4 286.7 L137.2 289.3 L134.0 291.7 L130.8 294.1 L127.6 296.2 L124.4 298.2 L121.2 300.0 L118.1 301.7 L115.0 303.2 L111.9 304.4 L109.0 305.5 L106.1 306.4 L103.4 307.1 L100.7 307.6 L98.2 307.8 L95.8 307.9 L93.6 307.7 L91.5 307.3 L89.6 306.8 L87.8 306.0 L86.3 305.0 L84.9 303.8 L83.7 302.4 L82.7 300.9 L81.9 299.1 L81.4 297.2 L81.0 295.1 L80.8 292.9 L80.9 290.5 L81.1 288.0 L81.6 285.3 L82.3 282.6 L83.2 279.7 L84.2 276.8 L85.5 273.7 L87.0 270.6 L88.7 267.5 L90.5 264.3 L92.5 261.1 L94.6 257.9 L97.0 254.7 L99.4 251.5 L102.0 248.3 L104.7 245.2 L107.5 242.1 L110.4 239.1 L113.4 236.2 L116.5 233.4 L119.6 230.7 L122.8 228.1 L126.0 225.7 L129.2 223.3 L132.4 221.2 L135.6 219.2 L138.8 217.4 L141.9 215.7 L145.0 214.2 L148.1 213.0 L151.0 211.9 L153.9 211.0 L156.6 210.3 L159.3 209.8 L161.8 209.6 L164.2 209.5 L166.4 209.7 L168.5 210.1 L170.4 210.6 L172.2 211.4 L173.7 212.4Z" fill="#f064a0"/></g>
<g clip-path="url(#vcc2)"><g clip-path="url(#vcc1)"><path d="M148.0 324.6 L146.2 326.3 L144.1 327.7 L141.9 328.9 L139.5 329.9 L136.9 330.7 L134.2 331.3 L131.4 331.6 L128.4 331.7 L125.2 331.5 L122.0 331.2 L118.7 330.6 L115.4 329.8 L111.9 328.7 L108.4 327.4 L104.9 325.9 L101.4 324.3 L97.8 322.4 L94.3 320.3 L90.8 318.0 L87.4 315.6 L84.0 313.0 L80.6 310.2 L77.4 307.3 L74.3 304.3 L71.3 301.2 L68.4 298.0 L65.6 294.6 L63.0 291.2 L60.6 287.8 L58.3 284.3 L56.2 280.8 L54.3 277.2 L52.7 273.7 L51.2 270.2 L49.9 266.7 L48.9 263.2 L48.0 259.9 L47.4 256.6 L47.1 253.4 L46.9 250.2 L47.0 247.2 L47.3 244.4 L47.9 241.7 L48.7 239.1 L49.7 236.7 L50.9 234.5 L52.3 232.4 L54.0 230.6 L55.8 228.9 L57.9 227.5 L60.1 226.3 L62.5 225.3 L65.1 224.5 L67.8 223.9 L70.6 223.6 L73.6 223.5 L76.8 223.7 L80.0 224.0 L83.3 224.6 L86.6 225.5 L90.1 226.5 L93.6 227.8 L97.1 229.3 L100.6 230.9 L104.2 232.8 L107.7 234.9 L111.2 237.2 L114.6 239.6 L118.0 242.2 L121.4 245.0 L124.6 247.9 L127.7 250.9 L130.7 254.0 L133.6 257.2 L136.4 260.6 L139.0 264.0 L141.4 267.4 L143.7 270.9 L145.8 274.4 L147.7 278.0 L149.3 281.5 L150.8 285.0 L152.1 288.5 L153.2 292.0 L154.0 295.3 L154.6 298.6 L154.9 301.8 L155.1 305.0 L155.0 308.0 L154.7 310.8 L154.1 313.5 L153.3 316.1 L152.3 318.5 L151.1 320.7 L149.7 322.8Z" fill="#14a582"/></g></g>
<g clip-path="url(#vcc3)"><g clip-path="url(#vcc1)"><path d="M148.0 324.6 L146.2 326.3 L144.1 327.7 L141.9 328.9 L139.5 329.9 L136.9 330.7 L134.2 331.3 L131.4 331.6 L128.4 331.7 L125.2 331.5 L122.0 331.2 L118.7 330.6 L115.4 329.8 L111.9 328.7 L108.4 327.4 L104.9 325.9 L101.4 324.3 L97.8 322.4 L94.3 320.3 L90.8 318.0 L87.4 315.6 L84.0 313.0 L80.6 310.2 L77.4 307.3 L74.3 304.3 L71.3 301.2 L68.4 298.0 L65.6 294.6 L63.0 291.2 L60.6 287.8 L58.3 284.3 L56.2 280.8 L54.3 277.2 L52.7 273.7 L51.2 270.2 L49.9 266.7 L48.9 263.2 L48.0 259.9 L47.4 256.6 L47.1 253.4 L46.9 250.2 L47.0 247.2 L47.3 244.4 L47.9 241.7 L48.7 239.1 L49.7 236.7 L50.9 234.5 L52.3 232.4 L54.0 230.6 L55.8 228.9 L57.9 227.5 L60.1 226.3 L62.5 225.3 L65.1 224.5 L67.8 223.9 L70.6 223.6 L73.6 223.5 L76.8 223.7 L80.0 224.0 L83.3 224.6 L86.6 225.5 L90.1 226.5 L93.6 227.8 L97.1 229.3 L100.6 230.9 L104.2 232.8 L107.7 234.9 L111.2 237.2 L114.6 239.6 L118.0 242.2 L121.4 245.0 L124.6 247.9 L127.7 250.9 L130.7 254.0 L133.6 257.2 L136.4 260.6 L139.0 264.0 L141.4 267.4 L143.7 270.9 L145.8 274.4 L147.7 278.0 L149.3 281.5 L150.8 285.0 L152.1 288.5 L153.2 292.0 L154.0 295.3 L154.6 298.6 L154.9 301.8 L155.1 305.0 L155.0 308.0 L154.7 310.8 L154.1 313.5 L153.3 316.1 L152.3 318.5 L151.1 320.7 L149.7 322.8Z" fill="#14af6e"/></g></g>
<g clip-path="url(#vcc3)"><g clip-path="url(#vcc2)"><path d="M148.0 324.6 L146.2 326.3 L144.1 327.7 L141.9 328.9 L139.5 329.9 L136.9 330.7 L134.2 331.3 L131.4 331.6 L128.4 331.7 L125.2 331.5 L122.0 331.2 L118.7 330.6 L115.4 329.8 L111.9 328.7 L108.4 327.4 L104.9 325.9 L101.4 324.3 L97.8 322.4 L94.3 320.3 L90.8 318.0 L87.4 315.6 L84.0 313.0 L80.6 310.2 L77.4 307.3 L74.3 304.3 L71.3 301.2 L68.4 298.0 L65.6 294.6 L63.0 291.2 L60.6 287.8 L58.3 284.3 L56.2 280.8 L54.3 277.2 L52.7 273.7 L51.2 270.2 L49.9 266.7 L48.9 263.2 L48.0 259.9 L47.4 256.6 L47.1 253.4 L46.9 250.2 L47.0 247.2 L47.3 244.4 L47.9 241.7 L48.7 239.1 L49.7 236.7 L50.9 234.5 L52.3 232.4 L54.0 230.6 L55.8 228.9 L57.9 227.5 L60.1 226.3 L62.5 225.3 L65.1 224.5 L67.8 223.9 L70.6 223.6 L73.6 223.5 L76.8 223.7 L80.0 224.0 L83.3 224.6 L86.6 225.5 L90.1 226.5 L93.6 227.8 L97.1 229.3 L100.6 230.9 L104.2 232.8 L107.7 234.9 L111.2 237.2 L114.6 239.6 L118.0 242.2 L121.4 245.0 L124.6 247.9 L127.7 250.9 L130.7 254.0 L133.6 257.2 L136.4 260.6 L139.0 264.0 L141.4 267.4 L143.7 270.9 L145.8 274.4 L147.7 278.0 L149.3 281.5 L150.8 285.0 L152.1 288.5 L153.2 292.0 L154.0 295.3 L154.6 298.6 L154.9 301.8 L155.1 305.0 L155.0 308.0 L154.7 310.8 L154.1 313.5 L153.3 316.1 L152.3 318.5 L151.1 320.7 L149.7 322.8Z" fill="#c36ebe"/></g></g>
<g clip-path="url(#vcc3)"><g clip-path="url(#vcc2)"><path d="M175.1 303.8 L173.7 305.0 L172.2 306.0 L170.4 306.8 L168.5 307.3 L166.4 307.7 L164.2 307.9 L161.8 307.8 L159.3 307.6 L156.6 307.1 L153.9 306.4 L151.0 305.5 L148.1 304.4 L145.0 303.2 L141.9 301.7 L138.8 300.0 L135.6 298.2 L132.4 296.2 L129.2 294.1 L126.0 291.7 L122.8 289.3 L119.6 286.7 L116.5 284.0 L113.4 281.2 L110.4 278.3 L107.5 275.3 L104.7 272.2 L102.0 269.1 L99.4 265.9 L97.0 262.7 L94.6 259.5 L92.5 256.3 L90.5 253.1 L88.7 249.9 L87.0 246.8 L85.5 243.7 L84.2 240.6 L83.2 237.7 L82.3 234.8 L81.6 232.1 L81.1 229.4 L80.9 226.9 L80.8 224.5 L81.0 222.3 L81.4 220.2 L81.9 218.3 L82.7 216.5 L83.7 215.0 L84.9 213.6 L86.3 212.4 L87.8 211.4 L89.6 210.6 L91.5 210.1 L93.6 209.7 L95.8 209.5 L98.2 209.6 L100.7 209.8 L103.4 210.3 L106.1 211.0 L109.0 211.9 L111.9 212.9 L115.0 214.2 L118.1 215.7 L121.2 217.4 L124.4 219.2 L127.6 221.2 L130.8 223.3 L134.0 225.7 L137.2 228.1 L140.4 230.7 L143.5 233.4 L146.6 236.2 L149.6 239.1 L152.5 242.1 L155.3 245.2 L158.0 248.3 L160.6 251.5 L163.0 254.7 L165.4 257.9 L167.5 261.1 L169.5 264.3 L171.3 267.5 L173.0 270.6 L174.5 273.7 L175.8 276.7 L176.8 279.7 L177.7 282.6 L178.4 285.3 L178.9 288.0 L179.1 290.5 L179.2 292.9 L179.0 295.1 L178.6 297.2 L178.1 299.1 L177.3 300.9 L176.3 302.4Z" fill="#32a07d"/></g></g>
<g clip-path="url(#vcc3)"><g clip-path="url(#vcc2)"><g clip-path="url(#vcc1)"><path d="M148.0 324.6 L146.2 326.3 L144.1 327.7 L141.9 328.9 L139.5 329.9 L136.9 330.7 L134.2 331.3 L131.4 331.6 L128.4 331.7 L125.2 331.5 L122.0 331.2 L118.7 330.6 L115.4 329.8 L111.9 328.7 L108.4 327.4 L104.9 325.9 L101.4 324.3 L97.8 322.4 L94.3 320.3 L90.8 318.0 L87.4 315.6 L84.0 313.0 L80.6 310.2 L77.4 307.3 L74.3 304.3 L71.3 301.2 L68.4 298.0 L65.6 294.6 L63.0 291.2 L60.6 287.8 L58.3 284.3 L56.2 280.8 L54.3 277.2 L52.7 273.7 L51.2 270.2 L49.9 266.7 L48.9 263.2 L48.0 259.9 L47.4 256.6 L47.1 253.4 L46.9 250.2 L47.0 247.2 L47.3 244.4 L47.9 241.7 L48.7 239.1 L49.7 236.7 L50.9 234.5 L52.3 232.4 L54.0 230.6 L55.8 228.9 L57.9 227.5 L60.1 226.3 L62.5 225.3 L65.1 224.5 L67.8 223.9 L70.6 223.6 L73.6 223.5 L76.8 223.7 L80.0 224.0 L83.3 224.6 L86.6 225.5 L90.1 226.5 L93.6 227.8 L97.1 229.3 L100.6 230.9 L104.2 232.8 L107.7 234.9 L111.2 237.2 L114.6 239.6 L118.0 242.2 L121.4 245.0 L124.6 247.9 L127.7 250.9 L130.7 254.0 L133.6 257.2 L136.4 260.6 L139.0 264.0 L141.4 267.4 L143.7 270.9 L145.8 274.4 L147.7 278.0 L149.3 281.5 L150.8 285.0 L152.1 288.5 L153.2 292.0 L154.0 295.3 L154.6 298.6 L154.9 301.8 L155.1 305.0 L155.0 308.0 L154.7 310.8 L154.1 313.5 L153.3 316.1 L152.3 318.5 L151.1 320.7 L149.7 322.8Z" fill="#0f9b7d"/></g></g></g>
<path d="M148.0 324.6 L146.2 326.3 L144.1 327.7 L141.9 328.9 L139.5 329.9 L136.9 330.7 L134.2 331.3 L131.4 331.6 L128.4 331.7 L125.2 331.5 L122.0 331.2 L118.7 330.6 L115.4 329.8 L111.9 328.7 L108.4 327.4 L104.9 325.9 L101.4 324.3 L97.8 322.4 L94.3 320.3 L90.8 318.0 L87.4 315.6 L84.0 313.0 L80.6 310.2 L77.4 307.3 L74.3 304.3 L71.3 301.2 L68.4 298.0 L65.6 294.6 L63.0 291.2 L60.6 287.8 L58.3 284.3 L56.2 280.8 L54.3 277.2 L52.7 273.7 L51.2 270.2 L49.9 266.7 L48.9 263.2 L48.0 259.9 L47.4 256.6 L47.1 253.4 L46.9 250.2 L47.0 247.2 L47.3 244.4 L47.9 241.7 L48.7 239.1 L49.7 236.7 L50.9 234.5 L52.3 232.4 L54.0 230.6 L55.8 228.9 L57.9 227.5 L60.1 226.3 L62.5 225.3 L65.1 224.5 L67.8 223.9 L70.6 223.6 L73.6 223.5 L76.8 223.7 L80.0 224.0 L83.3 224.6 L86.6 225.5 L90.1 226.5 L93.6 227.8 L97.1 229.3 L100.6 230.9 L104.2 232.8 L107.7 234.9 L111.2 237.2 L114.6 239.6 L118.0 242.2 L121.4 245.0 L124.6 247.9 L127.7 250.9 L130.7 254.0 L133.6 257.2 L136.4 260.6 L139.0 264.0 L141.4 267.4 L143.7 270.9 L145.8 274.4 L147.7 278.0 L149.3 281.5 L150.8 285.0 L152.1 288.5 L153.2 292.0 L154.0 295.3 L154.6 298.6 L154.9 301.8 L155.1 305.0 L155.0 308.0 L154.7 310.8 L154.1 313.5 L153.3 316.1 L152.3 318.5 L151.1 320.7 L149.7 322.8Z" fill="none" stroke="#0a0a0a" stroke-width="1"/>
<path d="M175.1 303.8 L173.7 305.0 L172.2 306.0 L170.4 306.8 L168.5 307.3 L166.4 307.7 L164.2 307.9 L161.8 307.8 L159.3 307.6 L156.6 307.1 L153.9 306.4 L151.0 305.5 L148.1 304.4 L145.0 303.2 L141.9 301.7 L138.8 300.0 L135.6 298.2 L132.4 296.2 L129.2 294.1 L126.0 291.7 L122.8 289.3 L119.6 286.7 L116.5 284.0 L113.4 281.2 L110.4 278.3 L107.5 275.3 L104.7 272.2 L102.0 269.1 L99.4 265.9 L97.0 262.7 L94.6 259.5 L92.5 256.3 L90.5 253.1 L88.7 249.9 L87.0 246.8 L85.5 243.7 L84.2 240.6 L83.2 237.7 L82.3 234.8 L81.6 232.1 L81.1 229.4 L80.9 226.9 L80.8 224.5 L81.0 222.3 L81.4 220.2 L81.9 218.3 L82.7 216.5 L83.7 215.0 L84.9 213.6 L86.3 212.4 L87.8 211.4 L89.6 210.6 L91.5 210.1 L93.6 209.7 L95.8 209.5 L98.2 209.6 L100.7 209.8 L103.4 210.3 L106.1 211.0 L109.0 211.9 L111.9 212.9 L115.0 214.2 L118.1 215.7 L121.2 217.4 L124.4 219.2 L127.6 221.2 L130.8 223.3 L134.0 225.7 L137.2 228.1 L140.4 230.7 L143.5 233.4 L146.6 236.2 L149.6 239.1 L152.5 242.1 L155.3 245.2 L158.0 248.3 L160.6 251.5 L163.0 254.7 L165.4 257.9 L167.5 261.1 L169.5 264.3 L171.3 267.5 L173.0 270.6 L174.5 273.7 L175.8 276.7 L176.8 279.7 L177.7 282.6 L178.4 285.3 L178.9 288.0 L179.1 290.5 L179.2 292.9 L179.0 295.1 L178.6 297.2 L178.1 299.1 L177.3 300.9 L176.3 302.4Z" fill="none" stroke="#0a0a0a" stroke-width="1"/>
<path d="M175.1 213.6 L176.3 215.0 L177.3 216.5 L178.1 218.3 L178.6 220.2 L179.0 222.3 L179.2 224.5 L179.1 226.9 L178.9 229.4 L178.4 232.1 L177.7 234.8 L176.8 237.7 L175.8 240.6 L174.5 243.7 L173.0 246.8 L171.3 249.9 L169.5 253.1 L167.5 256.3 L165.4 259.5 L163.0 262.7 L160.6 265.9 L158.0 269.1 L155.3 272.2 L152.5 275.3 L149.6 278.3 L146.6 281.2 L143.5 284.0 L140.4 286.7 L137.2 289.3 L134.0 291.7 L130.8 294.1 L127.6 296.2 L124.4 298.2 L121.2 300.0 L118.1 301.7 L115.0 303.2 L111.9 304.4 L109.0 305.5 L106.1 306.4 L103.4 307.1 L100.7 307.6 L98.2 307.8 L95.8 307.9 L93.6 307.7 L91.5 307.3 L89.6 306.8 L87.8 306.0 L86.3 305.0 L84.9 303.8 L83.7 302.4 L82.7 300.9 L81.9 299.1 L81.4 297.2 L81.0 295.1 L80.8 292.9 L80.9 290.5 L81.1 288.0 L81.6 285.3 L82.3 282.6 L83.2 279.7 L84.2 276.8 L85.5 273.7 L87.0 270.6 L88.7 267.5 L90.5 264.3 L92.5 261.1 L94.6 257.9 L97.0 254.7 L99.4 251.5 L102.0 248.3 L104.7 245.2 L107.5 242.1 L110.4 239.1 L113.4 236.2 L116.5 233.4 L119.6 230.7 L122.8 228.1 L126.0 225.7 L129.2 223.3 L132.4 221.2 L135.6 219.2 L138.8 217.4 L141.9 215.7 L145.0 214.2 L148.1 213.0 L151.0 211.9 L153.9 211.0 L156.6 210.3 L159.3 209.8 L161.8 209.6 L164.2 209.5 L166.4 209.7 L168.5 210.1 L170.4 210.6 L172.2 211.4 L173.7 212.4Z" fill="none" stroke="#0a0a0a" stroke-width="1"/>
<path d="M206.0 230.6 L207.7 232.4 L209.1 234.5 L210.3 236.7 L211.3 239.1 L212.1 241.7 L212.7 244.4 L213.0 247.2 L213.1 250.2 L212.9 253.4 L212.6 256.6 L212.0 259.9 L211.2 263.2 L210.1 266.7 L208.8 270.2 L207.3 273.7 L205.7 277.2 L203.8 280.8 L201.7 284.3 L199.4 287.8 L197.0 291.2 L194.4 294.6 L191.6 298.0 L188.7 301.2 L185.7 304.3 L182.6 307.3 L179.4 310.2 L176.0 313.0 L172.6 315.6 L169.2 318.0 L165.7 320.3 L162.2 322.4 L158.6 324.3 L155.1 325.9 L151.6 327.4 L148.1 328.7 L144.7 329.8 L141.3 330.6 L138.0 331.2 L134.8 331.5 L131.6 331.7 L128.6 331.6 L125.8 331.3 L123.1 330.7 L120.5 329.9 L118.1 328.9 L115.9 327.7 L113.8 326.3 L112.0 324.6 L110.3 322.8 L108.9 320.7 L107.7 318.5 L106.7 316.1 L105.9 313.5 L105.3 310.8 L105.0 308.0 L104.9 305.0 L105.1 301.8 L105.4 298.6 L106.0 295.3 L106.8 292.0 L107.9 288.5 L109.2 285.0 L110.7 281.5 L112.3 278.0 L114.2 274.4 L116.3 270.9 L118.6 267.4 L121.0 264.0 L123.6 260.6 L126.4 257.2 L129.3 254.0 L132.3 250.9 L135.4 247.9 L138.6 245.0 L142.0 242.2 L145.4 239.6 L148.8 237.2 L152.3 234.9 L155.8 232.8 L159.4 230.9 L162.9 229.3 L166.4 227.8 L169.9 226.5 L173.3 225.5 L176.7 224.6 L180.0 224.0 L183.2 223.7 L186.4 223.5 L189.4 223.6 L192.2 223.9 L194.9 224.5 L197.5 225.3 L199.9 226.3 L202.1 227.5 L204.2 228.9Z" fill="none" stroke="#0a0a0a" stroke-width="1"/>
<text x="49.8" y="220.6" font-size="7.3" text-anchor="middle" fill="#222">LFC vs JFC</text>
<text x="101.4" y="202.9" font-size="7.3" text-anchor="middle" fill="#222">FHXN vs JFC</text>
<text x="158.4" y="202.9" font-size="7.3" text-anchor="middle" fill="#222">JFC vs HBG</text>
<text x="204" y="220.6" font-size="7.3" text-anchor="middle" fill="#222">BSH vs JFC</text>
<text x="101.2" y="223.3" font-size="9.2" text-anchor="middle" fill="#12222c" stroke="#12222c" stroke-width="0.25">3</text>
<text x="158.8" y="223.3" font-size="9.2" text-anchor="middle" fill="#12222c" stroke="#12222c" stroke-width="0.25">1</text>
<text x="94" y="243.3" font-size="9.2" text-anchor="middle" fill="#12222c" stroke="#12222c" stroke-width="0.25">0</text>
<text x="130" y="239.3" font-size="9.2" text-anchor="middle" fill="#12222c" stroke="#12222c" stroke-width="0.25">0</text>
<text x="166.8" y="243.3" font-size="9.2" text-anchor="middle" fill="#12222c" stroke="#12222c" stroke-width="0.25">0</text>
<text x="68.8" y="260.1" font-size="9.2" text-anchor="middle" fill="#12222c" stroke="#12222c" stroke-width="0.25">5</text>
<text x="111.2" y="260.1" font-size="9.2" text-anchor="middle" fill="#12222c" stroke="#12222c" stroke-width="0.25">5</text>
<text x="148.8" y="260.1" font-size="9.2" text-anchor="middle" fill="#12222c" stroke="#12222c" stroke-width="0.25">0</text>
<text x="190.8" y="260.1" font-size="9.2" text-anchor="middle" fill="#12222c" stroke="#12222c" stroke-width="0.25">2</text>
<text x="130" y="280.1" font-size="9.2" text-anchor="middle" fill="#12222c" stroke="#12222c" stroke-width="0.25">6</text>
<text x="95.5" y="290.3" font-size="9.2" text-anchor="middle" fill="#12222c" stroke="#12222c" stroke-width="0.25">3</text>
<text x="163.7" y="290.3" font-size="9.2" text-anchor="middle" fill="#12222c" stroke="#12222c" stroke-width="0.25">4</text>
<text x="115.2" y="298.1" font-size="9.2" text-anchor="middle" fill="#12222c" stroke="#12222c" stroke-width="0.25">3</text>
<text x="144" y="298.1" font-size="9.2" text-anchor="middle" fill="#12222c" stroke="#12222c" stroke-width="0.25">1</text>
<text x="130" y="317.3" font-size="9.2" text-anchor="middle" fill="#12222c" stroke="#12222c" stroke-width="0.25">5</text>
</g>
<g id="vd">
<defs>
<clipPath id="vdc0"><path d="M389.9 324.5 L388.0 326.3 L385.9 327.7 L383.6 329.0 L381.1 330.0 L378.5 330.9 L375.7 331.4 L372.7 331.8 L369.6 331.9 L366.4 331.7 L363.1 331.3 L359.6 330.7 L356.2 329.8 L352.6 328.8 L349.0 327.5 L345.3 325.9 L341.7 324.2 L338.0 322.2 L334.4 320.1 L330.8 317.7 L327.2 315.2 L323.7 312.5 L320.2 309.7 L316.9 306.7 L313.7 303.5 L310.5 300.3 L307.5 297.0 L304.7 293.5 L302.0 290.0 L299.5 286.4 L297.1 282.8 L295.0 279.2 L293.0 275.5 L291.3 271.9 L289.7 268.2 L288.4 264.6 L287.4 261.1 L286.5 257.6 L285.9 254.1 L285.5 250.8 L285.3 247.6 L285.4 244.5 L285.8 241.5 L286.3 238.7 L287.2 236.1 L288.2 233.6 L289.5 231.3 L290.9 229.2 L292.7 227.3 L294.6 225.5 L296.7 224.1 L299.0 222.8 L301.5 221.8 L304.1 220.9 L306.9 220.4 L309.9 220.0 L313.0 219.9 L316.2 220.1 L319.5 220.5 L323.0 221.1 L326.4 221.9 L330.0 223.0 L333.6 224.3 L337.3 225.9 L340.9 227.6 L344.6 229.6 L348.2 231.7 L351.8 234.1 L355.4 236.6 L358.9 239.3 L362.4 242.1 L365.7 245.1 L368.9 248.3 L372.1 251.5 L375.1 254.8 L377.9 258.3 L380.6 261.8 L383.1 265.4 L385.5 269.0 L387.6 272.6 L389.6 276.3 L391.3 279.9 L392.9 283.6 L394.2 287.2 L395.2 290.7 L396.1 294.2 L396.7 297.7 L397.1 301.0 L397.3 304.2 L397.2 307.3 L396.8 310.3 L396.3 313.1 L395.4 315.7 L394.4 318.2 L393.1 320.5 L391.7 322.6Z"/></clipPath>
<clipPath id="vdc1"><path d="M418.8 304.1 L417.4 305.3 L415.7 306.3 L413.9 307.1 L411.9 307.7 L409.7 308.1 L407.4 308.2 L404.9 308.2 L402.3 307.9 L399.5 307.3 L396.6 306.6 L393.6 305.7 L390.5 304.5 L387.3 303.1 L384.1 301.6 L380.8 299.8 L377.4 297.9 L374.0 295.7 L370.7 293.5 L367.3 291.0 L363.9 288.4 L360.6 285.7 L357.3 282.8 L354.1 279.9 L350.9 276.8 L347.8 273.6 L344.9 270.4 L342.0 267.1 L339.3 263.8 L336.7 260.4 L334.2 257.0 L332.0 253.7 L329.8 250.3 L327.9 246.9 L326.1 243.6 L324.6 240.4 L323.2 237.2 L322.0 234.1 L321.1 231.1 L320.4 228.2 L319.8 225.4 L319.5 222.8 L319.5 220.3 L319.6 218.0 L320.0 215.8 L320.6 213.8 L321.4 212.0 L322.4 210.3 L323.6 208.9 L325.0 207.7 L326.7 206.7 L328.5 205.9 L330.5 205.3 L332.7 204.9 L335.0 204.8 L337.5 204.8 L340.1 205.1 L342.9 205.7 L345.8 206.4 L348.8 207.3 L351.9 208.5 L355.1 209.9 L358.3 211.4 L361.6 213.2 L365.0 215.1 L368.4 217.3 L371.7 219.5 L375.1 222.0 L378.5 224.6 L381.8 227.3 L385.1 230.2 L388.3 233.1 L391.5 236.2 L394.6 239.4 L397.5 242.6 L400.4 245.9 L403.1 249.2 L405.7 252.6 L408.2 256.0 L410.4 259.3 L412.6 262.7 L414.5 266.1 L416.3 269.4 L417.8 272.6 L419.2 275.8 L420.4 278.9 L421.3 281.9 L422.0 284.8 L422.6 287.6 L422.9 290.2 L422.9 292.7 L422.8 295.0 L422.4 297.2 L421.8 299.2 L421.0 301.0 L420.0 302.7Z"/></clipPath>
<clipPath id="vdc2"><path d="M418.8 208.9 L420.0 210.3 L421.0 212.0 L421.8 213.8 L422.4 215.8 L422.8 218.0 L422.9 220.3 L422.9 222.8 L422.6 225.4 L422.0 228.2 L421.3 231.1 L420.4 234.1 L419.2 237.2 L417.8 240.4 L416.3 243.6 L414.5 246.9 L412.6 250.3 L410.4 253.7 L408.2 257.0 L405.7 260.4 L403.1 263.8 L400.4 267.1 L397.5 270.4 L394.6 273.6 L391.5 276.8 L388.3 279.9 L385.1 282.8 L381.8 285.7 L378.5 288.4 L375.1 291.0 L371.7 293.5 L368.4 295.7 L365.0 297.9 L361.6 299.8 L358.3 301.6 L355.1 303.1 L351.9 304.5 L348.8 305.7 L345.8 306.6 L342.9 307.3 L340.1 307.9 L337.5 308.2 L335.0 308.2 L332.7 308.1 L330.5 307.7 L328.5 307.1 L326.7 306.3 L325.0 305.3 L323.6 304.1 L322.4 302.7 L321.4 301.0 L320.6 299.2 L320.0 297.2 L319.6 295.0 L319.5 292.7 L319.5 290.2 L319.8 287.6 L320.4 284.8 L321.1 281.9 L322.0 278.9 L323.2 275.8 L324.6 272.6 L326.1 269.4 L327.9 266.1 L329.8 262.7 L332.0 259.3 L334.2 256.0 L336.7 252.6 L339.3 249.2 L342.0 245.9 L344.9 242.6 L347.8 239.4 L350.9 236.2 L354.1 233.1 L357.3 230.2 L360.6 227.3 L363.9 224.6 L367.3 222.0 L370.7 219.5 L374.0 217.3 L377.4 215.1 L380.8 213.2 L384.1 211.4 L387.3 209.9 L390.5 208.5 L393.6 207.3 L396.6 206.4 L399.5 205.7 L402.3 205.1 L404.9 204.8 L407.4 204.8 L409.7 204.9 L411.9 205.3 L413.9 205.9 L415.7 206.7 L417.4 207.7Z"/></clipPath>
<clipPath id="vdc3"><path d="M449.7 227.3 L451.5 229.2 L452.9 231.3 L454.2 233.6 L455.2 236.1 L456.1 238.7 L456.6 241.5 L457.0 244.5 L457.1 247.6 L456.9 250.8 L456.5 254.1 L455.9 257.6 L455.1 261.0 L454.0 264.6 L452.7 268.2 L451.1 271.9 L449.4 275.5 L447.4 279.2 L445.3 282.8 L442.9 286.4 L440.4 290.0 L437.7 293.5 L434.9 297.0 L431.9 300.3 L428.7 303.5 L425.5 306.7 L422.2 309.7 L418.7 312.5 L415.2 315.2 L411.6 317.7 L408.0 320.1 L404.4 322.2 L400.7 324.2 L397.1 325.9 L393.4 327.5 L389.8 328.8 L386.2 329.8 L382.8 330.7 L379.3 331.3 L376.0 331.7 L372.8 331.9 L369.7 331.8 L366.7 331.4 L363.9 330.9 L361.3 330.0 L358.8 329.0 L356.5 327.7 L354.4 326.3 L352.5 324.5 L350.7 322.6 L349.3 320.5 L348.0 318.2 L347.0 315.7 L346.1 313.1 L345.6 310.3 L345.2 307.3 L345.1 304.2 L345.3 301.0 L345.7 297.7 L346.3 294.2 L347.1 290.8 L348.2 287.2 L349.5 283.6 L351.1 279.9 L352.8 276.3 L354.8 272.6 L356.9 269.0 L359.3 265.4 L361.8 261.8 L364.5 258.3 L367.3 254.8 L370.3 251.5 L373.5 248.3 L376.7 245.1 L380.0 242.1 L383.5 239.3 L387.0 236.6 L390.6 234.1 L394.2 231.7 L397.8 229.6 L401.5 227.6 L405.1 225.9 L408.8 224.3 L412.4 223.0 L415.9 221.9 L419.4 221.1 L422.9 220.5 L426.2 220.1 L429.4 219.9 L432.5 220.0 L435.5 220.4 L438.3 220.9 L440.9 221.8 L443.4 222.8 L445.7 224.1 L447.8 225.5Z"/></clipPath>
</defs>
<path d="M389.9 324.5 L388.0 326.3 L385.9 327.7 L383.6 329.0 L381.1 330.0 L378.5 330.9 L375.7 331.4 L372.7 331.8 L369.6 331.9 L366.4 331.7 L363.1 331.3 L359.6 330.7 L356.2 329.8 L352.6 328.8 L349.0 327.5 L345.3 325.9 L341.7 324.2 L338.0 322.2 L334.4 320.1 L330.8 317.7 L327.2 315.2 L323.7 312.5 L320.2 309.7 L316.9 306.7 L313.7 303.5 L310.5 300.3 L307.5 297.0 L304.7 293.5 L302.0 290.0 L299.5 286.4 L297.1 282.8 L295.0 279.2 L293.0 275.5 L291.3 271.9 L289.7 268.2 L288.4 264.6 L287.4 261.1 L286.5 257.6 L285.9 254.1 L285.5 250.8 L285.3 247.6 L285.4 244.5 L285.8 241.5 L286.3 238.7 L287.2 236.1 L288.2 233.6 L289.5 231.3 L290.9 229.2 L292.7 227.3 L294.6 225.5 L296.7 224.1 L299.0 222.8 L301.5 221.8 L304.1 220.9 L306.9 220.4 L309.9 220.0 L313.0 219.9 L316.2 220.1 L319.5 220.5 L323.0 221.1 L326.4 221.9 L330.0 223.0 L333.6 224.3 L337.3 225.9 L340.9 227.6 L344.6 229.6 L348.2 231.7 L351.8 234.1 L355.4 236.6 L358.9 239.3 L362.4 242.1 L365.7 245.1 L368.9 248.3 L372.1 251.5 L375.1 254.8 L377.9 258.3 L380.6 261.8 L383.1 265.4 L385.5 269.0 L387.6 272.6 L389.6 276.3 L391.3 279.9 L392.9 283.6 L394.2 287.2 L395.2 290.7 L396.1 294.2 L396.7 297.7 L397.1 301.0 L397.3 304.2 L397.2 307.3 L396.8 310.3 L396.3 313.1 L395.4 315.7 L394.4 318.2 L393.1 320.5 L391.7 322.6Z" fill="#0ba4fc"/>
<path d="M418.8 304.1 L417.4 305.3 L415.7 306.3 L413.9 307.1 L411.9 307.7 L409.7 308.1 L407.4 308.2 L404.9 308.2 L402.3 307.9 L399.5 307.3 L396.6 306.6 L393.6 305.7 L390.5 304.5 L387.3 303.1 L384.1 301.6 L380.8 299.8 L377.4 297.9 L374.0 295.7 L370.7 293.5 L367.3 291.0 L363.9 288.4 L360.6 285.7 L357.3 282.8 L354.1 279.9 L350.9 276.8 L347.8 273.6 L344.9 270.4 L342.0 267.1 L339.3 263.8 L336.7 260.4 L334.2 257.0 L332.0 253.7 L329.8 250.3 L327.9 246.9 L326.1 243.6 L324.6 240.4 L323.2 237.2 L322.0 234.1 L321.1 231.1 L320.4 228.2 L319.8 225.4 L319.5 222.8 L319.5 220.3 L319.6 218.0 L320.0 215.8 L320.6 213.8 L321.4 212.0 L322.4 210.3 L323.6 208.9 L325.0 207.7 L326.7 206.7 L328.5 205.9 L330.5 205.3 L332.7 204.9 L335.0 204.8 L337.5 204.8 L340.1 205.1 L342.9 205.7 L345.8 206.4 L348.8 207.3 L351.9 208.5 L355.1 209.9 L358.3 211.4 L361.6 213.2 L365.0 215.1 L368.4 217.3 L371.7 219.5 L375.1 222.0 L378.5 224.6 L381.8 227.3 L385.1 230.2 L388.3 233.1 L391.5 236.2 L394.6 239.4 L397.5 242.6 L400.4 245.9 L403.1 249.2 L405.7 252.6 L408.2 256.0 L410.4 259.3 L412.6 262.7 L414.5 266.1 L416.3 269.4 L417.8 272.6 L419.2 275.8 L420.4 278.9 L421.3 281.9 L422.0 284.8 L422.6 287.6 L422.9 290.2 L422.9 292.7 L422.8 295.0 L422.4 297.2 L421.8 299.2 L421.0 301.0 L420.0 302.7Z" fill="#0adc92"/>
<path d="M418.8 208.9 L420.0 210.3 L421.0 212.0 L421.8 213.8 L422.4 215.8 L422.8 218.0 L422.9 220.3 L422.9 222.8 L422.6 225.4 L422.0 228.2 L421.3 231.1 L420.4 234.1 L419.2 237.2 L417.8 240.4 L416.3 243.6 L414.5 246.9 L412.6 250.3 L410.4 253.7 L408.2 257.0 L405.7 260.4 L403.1 263.8 L400.4 267.1 L397.5 270.4 L394.6 273.6 L391.5 276.8 L388.3 279.9 L385.1 282.8 L381.8 285.7 L378.5 288.4 L375.1 291.0 L371.7 293.5 L368.4 295.7 L365.0 297.9 L361.6 299.8 L358.3 301.6 L355.1 303.1 L351.9 304.5 L348.8 305.7 L345.8 306.6 L342.9 307.3 L340.1 307.9 L337.5 308.2 L335.0 308.2 L332.7 308.1 L330.5 307.7 L328.5 307.1 L326.7 306.3 L325.0 305.3 L323.6 304.1 L322.4 302.7 L321.4 301.0 L320.6 299.2 L320.0 297.2 L319.6 295.0 L319.5 292.7 L319.5 290.2 L319.8 287.6 L320.4 284.8 L321.1 281.9 L322.0 278.9 L323.2 275.8 L324.6 272.6 L326.1 269.4 L327.9 266.1 L329.8 262.7 L332.0 259.3 L334.2 256.0 L336.7 252.6 L339.3 249.2 L342.0 245.9 L344.9 242.6 L347.8 239.4 L350.9 236.2 L354.1 233.1 L357.3 230.2 L360.6 227.3 L363.9 224.6 L367.3 222.0 L370.7 219.5 L374.0 217.3 L377.4 215.1 L380.8 213.2 L384.1 211.4 L387.3 209.9 L390.5 208.5 L393.6 207.3 L396.6 206.4 L399.5 205.7 L402.3 205.1 L404.9 204.8 L407.4 204.8 L409.7 204.9 L411.9 205.3 L413.9 205.9 L415.7 206.7 L417.4 207.7Z" fill="#ee82e1"/>
<path d="M449.7 227.3 L451.5 229.2 L452.9 231.3 L454.2 233.6 L455.2 236.1 L456.1 238.7 L456.6 241.5 L457.0 244.5 L457.1 247.6 L456.9 250.8 L456.5 254.1 L455.9 257.6 L455.1 261.0 L454.0 264.6 L452.7 268.2 L451.1 271.9 L449.4 275.5 L447.4 279.2 L445.3 282.8 L442.9 286.4 L440.4 290.0 L437.7 293.5 L434.9 297.0 L431.9 300.3 L428.7 303.5 L425.5 306.7 L422.2 309.7 L418.7 312.5 L415.2 315.2 L411.6 317.7 L408.0 320.1 L404.4 322.2 L400.7 324.2 L397.1 325.9 L393.4 327.5 L389.8 328.8 L386.2 329.8 L382.8 330.7 L379.3 331.3 L376.0 331.7 L372.8 331.9 L369.7 331.8 L366.7 331.4 L363.9 330.9 L361.3 330.0 L358.8 329.0 L356.5 327.7 L354.4 326.3 L352.5 324.5 L350.7 322.6 L349.3 320.5 L348.0 318.2 L347.0 315.7 L346.1 313.1 L345.6 310.3 L345.2 307.3 L345.1 304.2 L345.3 301.0 L345.7 297.7 L346.3 294.2 L347.1 290.8 L348.2 287.2 L349.5 283.6 L351.1 279.9 L352.8 276.3 L354.8 272.6 L356.9 269.0 L359.3 265.4 L361.8 261.8 L364.5 258.3 L367.3 254.8 L370.3 251.5 L373.5 248.3 L376.7 245.1 L380.0 242.1 L383.5 239.3 L387.0 236.6 L390.6 234.1 L394.2 231.7 L397.8 229.6 L401.5 227.6 L405.1 225.9 L408.8 224.3 L412.4 223.0 L415.9 221.9 L419.4 221.1 L422.9 220.5 L426.2 220.1 L429.4 219.9 L432.5 220.0 L435.5 220.4 L438.3 220.9 L440.9 221.8 L443.4 222.8 L445.7 224.1 L447.8 225.5Z" fill="#ffa03c"/>
<g clip-path="url(#vdc1)"><path d="M389.9 324.5 L388.0 326.3 L385.9 327.7 L383.6 329.0 L381.1 330.0 L378.5 330.9 L375.7 331.4 L372.7 331.8 L369.6 331.9 L366.4 331.7 L363.1 331.3 L359.6 330.7 L356.2 329.8 L352.6 328.8 L349.0 327.5 L345.3 325.9 L341.7 324.2 L338.0 322.2 L334.4 320.1 L330.8 317.7 L327.2 315.2 L323.7 312.5 L320.2 309.7 L316.9 306.7 L313.7 303.5 L310.5 300.3 L307.5 297.0 L304.7 293.5 L302.0 290.0 L299.5 286.4 L297.1 282.8 L295.0 279.2 L293.0 275.5 L291.3 271.9 L289.7 268.2 L288.4 264.6 L287.4 261.1 L286.5 257.6 L285.9 254.1 L285.5 250.8 L285.3 247.6 L285.4 244.5 L285.8 241.5 L286.3 238.7 L287.2 236.1 L288.2 233.6 L289.5 231.3 L290.9 229.2 L292.7 227.3 L294.6 225.5 L296.7 224.1 L299.0 222.8 L301.5 221.8 L304.1 220.9 L306.9 220.4 L309.9 220.0 L313.0 219.9 L316.2 220.1 L319.5 220.5 L323.0 221.1 L326.4 221.9 L330.0 223.0 L333.6 224.3 L337.3 225.9 L340.9 227.6 L344.6 229.6 L348.2 231.7 L351.8 234.1 L355.4 236.6 L358.9 239.3 L362.4 242.1 L365.7 245.1 L368.9 248.3 L372.1 251.5 L375.1 254.8 L377.9 258.3 L380.6 261.8 L383.1 265.4 L385.5 269.0 L387.6 272.6 L389.6 276.3 L391.3 279.9 L392.9 283.6 L394.2 287.2 L395.2 290.7 L396.1 294.2 L396.7 297.7 L397.1 301.0 L397.3 304.2 L397.2 307.3 L396.8 310.3 L396.3 313.1 L395.4 315.7 L394.4 318.2 L393.1 320.5 L391.7 322.6Z" fill="#19af87"/></g>
<g clip-path="url(#vdc2)"><path d="M389.9 324.5 L388.0 326.3 L385.9 327.7 L383.6 329.0 L381.1 330.0 L378.5 330.9 L375.7 331.4 L372.7 331.8 L369.6 331.9 L366.4 331.7 L363.1 331.3 L359.6 330.7 L356.2 329.8 L352.6 328.8 L349.0 327.5 L345.3 325.9 L341.7 324.2 L338.0 322.2 L334.4 320.1 L330.8 317.7 L327.2 315.2 L323.7 312.5 L320.2 309.7 L316.9 306.7 L313.7 303.5 L310.5 300.3 L307.5 297.0 L304.7 293.5 L302.0 290.0 L299.5 286.4 L297.1 282.8 L295.0 279.2 L293.0 275.5 L291.3 271.9 L289.7 268.2 L288.4 264.6 L287.4 261.1 L286.5 257.6 L285.9 254.1 L285.5 250.8 L285.3 247.6 L285.4 244.5 L285.8 241.5 L286.3 238.7 L287.2 236.1 L288.2 233.6 L289.5 231.3 L290.9 229.2 L292.7 227.3 L294.6 225.5 L296.7 224.1 L299.0 222.8 L301.5 221.8 L304.1 220.9 L306.9 220.4 L309.9 220.0 L313.0 219.9 L316.2 220.1 L319.5 220.5 L323.0 221.1 L326.4 221.9 L330.0 223.0 L333.6 224.3 L337.3 225.9 L340.9 227.6 L344.6 229.6 L348.2 231.7 L351.8 234.1 L355.4 236.6 L358.9 239.3 L362.4 242.1 L365.7 245.1 L368.9 248.3 L372.1 251.5 L375.1 254.8 L377.9 258.3 L380.6 261.8 L383.1 265.4 L385.5 269.0 L387.6 272.6 L389.6 276.3 L391.3 279.9 L392.9 283.6 L394.2 287.2 L395.2 290.7 L396.1 294.2 L396.7 297.7 L397.1 301.0 L397.3 304.2 L397.2 307.3 L396.8 310.3 L396.3 313.1 L395.4 315.7 L394.4 318.2 L393.1 320.5 L391.7 322.6Z" fill="#c37ddc"/></g>
<g clip-path="url(#vdc3)"><path d="M389.9 324.5 L388.0 326.3 L385.9 327.7 L383.6 329.0 L381.1 330.0 L378.5 330.9 L375.7 331.4 L372.7 331.8 L369.6 331.9 L366.4 331.7 L363.1 331.3 L359.6 330.7 L356.2 329.8 L352.6 328.8 L349.0 327.5 L345.3 325.9 L341.7 324.2 L338.0 322.2 L334.4 320.1 L330.8 317.7 L327.2 315.2 L323.7 312.5 L320.2 309.7 L316.9 306.7 L313.7 303.5 L310.5 300.3 L307.5 297.0 L304.7 293.5 L302.0 290.0 L299.5 286.4 L297.1 282.8 L295.0 279.2 L293.0 275.5 L291.3 271.9 L289.7 268.2 L288.4 264.6 L287.4 261.1 L286.5 257.6 L285.9 254.1 L285.5 250.8 L285.3 247.6 L285.4 244.5 L285.8 241.5 L286.3 238.7 L287.2 236.1 L288.2 233.6 L289.5 231.3 L290.9 229.2 L292.7 227.3 L294.6 225.5 L296.7 224.1 L299.0 222.8 L301.5 221.8 L304.1 220.9 L306.9 220.4 L309.9 220.0 L313.0 219.9 L316.2 220.1 L319.5 220.5 L323.0 221.1 L326.4 221.9 L330.0 223.0 L333.6 224.3 L337.3 225.9 L340.9 227.6 L344.6 229.6 L348.2 231.7 L351.8 234.1 L355.4 236.6 L358.9 239.3 L362.4 242.1 L365.7 245.1 L368.9 248.3 L372.1 251.5 L375.1 254.8 L377.9 258.3 L380.6 261.8 L383.1 265.4 L385.5 269.0 L387.6 272.6 L389.6 276.3 L391.3 279.9 L392.9 283.6 L394.2 287.2 L395.2 290.7 L396.1 294.2 L396.7 297.7 L397.1 301.0 L397.3 304.2 L397.2 307.3 L396.8 310.3 L396.3 313.1 L395.4 315.7 L394.4 318.2 L393.1 320.5 L391.7 322.6Z" fill="#3c8cc8"/></g>
<g clip-path="url(#vdc2)"><path d="M418.8 304.1 L417.4 305.3 L415.7 306.3 L413.9 307.1 L411.9 307.7 L409.7 308.1 L407.4 308.2 L404.9 308.2 L402.3 307.9 L399.5 307.3 L396.6 306.6 L393.6 305.7 L390.5 304.5 L387.3 303.1 L384.1 301.6 L380.8 299.8 L377.4 297.9 L374.0 295.7 L370.7 293.5 L367.3 291.0 L363.9 288.4 L360.6 285.7 L357.3 282.8 L354.1 279.9 L350.9 276.8 L347.8 273.6 L344.9 270.4 L342.0 267.1 L339.3 263.8 L336.7 260.4 L334.2 257.0 L332.0 253.7 L329.8 250.3 L327.9 246.9 L326.1 243.6 L324.6 240.4 L323.2 237.2 L322.0 234.1 L321.1 231.1 L320.4 228.2 L319.8 225.4 L319.5 222.8 L319.5 220.3 L319.6 218.0 L320.0 215.8 L320.6 213.8 L321.4 212.0 L322.4 210.3 L323.6 208.9 L325.0 207.7 L326.7 206.7 L328.5 205.9 L330.5 205.3 L332.7 204.9 L335.0 204.8 L337.5 204.8 L340.1 205.1 L342.9 205.7 L345.8 206.4 L348.8 207.3 L351.9 208.5 L355.1 209.9 L358.3 211.4 L361.6 213.2 L365.0 215.1 L368.4 217.3 L371.7 219.5 L375.1 222.0 L378.5 224.6 L381.8 227.3 L385.1 230.2 L388.3 233.1 L391.5 236.2 L394.6 239.4 L397.5 242.6 L400.4 245.9 L403.1 249.2 L405.7 252.6 L408.2 256.0 L410.4 259.3 L412.6 262.7 L414.5 266.1 L416.3 269.4 L417.8 272.6 L419.2 275.8 L420.4 278.9 L421.3 281.9 L422.0 284.8 L422.6 287.6 L422.9 290.2 L422.9 292.7 L422.8 295.0 L422.4 297.2 L421.8 299.2 L421.0 301.0 L420.0 302.7Z" fill="#3caa8c"/></g>
<g clip-path="url(#vdc3)"><path d="M418.8 304.1 L417.4 305.3 L415.7 306.3 L413.9 307.1 L411.9 307.7 L409.7 308.1 L407.4 308.2 L404.9 308.2 L402.3 307.9 L399.5 307.3 L396.6 306.6 L393.6 305.7 L390.5 304.5 L387.3 303.1 L384.1 301.6 L380.8 299.8 L377.4 297.9 L374.0 295.7 L370.7 293.5 L367.3 291.0 L363.9 288.4 L360.6 285.7 L357.3 282.8 L354.1 279.9 L350.9 276.8 L347.8 273.6 L344.9 270.4 L342.0 267.1 L339.3 263.8 L336.7 260.4 L334.2 257.0 L332.0 253.7 L329.8 250.3 L327.9 246.9 L326.1 243.6 L324.6 240.4 L323.2 237.2 L322.0 234.1 L321.1 231.1 L320.4 228.2 L319.8 225.4 L319.5 222.8 L319.5 220.3 L319.6 218.0 L320.0 215.8 L320.6 213.8 L321.4 212.0 L322.4 210.3 L323.6 208.9 L325.0 207.7 L326.7 206.7 L328.5 205.9 L330.5 205.3 L332.7 204.9 L335.0 204.8 L337.5 204.8 L340.1 205.1 L342.9 205.7 L345.8 206.4 L348.8 207.3 L351.9 208.5 L355.1 209.9 L358.3 211.4 L361.6 213.2 L365.0 215.1 L368.4 217.3 L371.7 219.5 L375.1 222.0 L378.5 224.6 L381.8 227.3 L385.1 230.2 L388.3 233.1 L391.5 236.2 L394.6 239.4 L397.5 242.6 L400.4 245.9 L403.1 249.2 L405.7 252.6 L408.2 256.0 L410.4 259.3 L412.6 262.7 L414.5 266.1 L416.3 269.4 L417.8 272.6 L419.2 275.8 L420.4 278.9 L421.3 281.9 L422.0 284.8 L422.6 287.6 L422.9 290.2 L422.9 292.7 L422.8 295.0 L422.4 297.2 L421.8 299.2 L421.0 301.0 L420.0 302.7Z" fill="#32c364"/></g>
<g clip-path="url(#vdc3)"><path d="M418.8 208.9 L420.0 210.3 L421.0 212.0 L421.8 213.8 L422.4 215.8 L422.8 218.0 L422.9 220.3 L422.9 222.8 L422.6 225.4 L422.0 228.2 L421.3 231.1 L420.4 234.1 L419.2 237.2 L417.8 240.4 L416.3 243.6 L414.5 246.9 L412.6 250.3 L410.4 253.7 L408.2 257.0 L405.7 260.4 L403.1 263.8 L400.4 267.1 L397.5 270.4 L394.6 273.6 L391.5 276.8 L388.3 279.9 L385.1 282.8 L381.8 285.7 L378.5 288.4 L375.1 291.0 L371.7 293.5 L368.4 295.7 L365.0 297.9 L361.6 299.8 L358.3 301.6 L355.1 303.1 L351.9 304.5 L348.8 305.7 L345.8 306.6 L342.9 307.3 L340.1 307.9 L337.5 308.2 L335.0 308.2 L332.7 308.1 L330.5 307.7 L328.5 307.1 L326.7 306.3 L325.0 305.3 L323.6 304.1 L322.4 302.7 L321.4 301.0 L320.6 299.2 L320.0 297.2 L319.6 295.0 L319.5 292.7 L319.5 290.2 L319.8 287.6 L320.4 284.8 L321.1 281.9 L322.0 278.9 L323.2 275.8 L324.6 272.6 L326.1 269.4 L327.9 266.1 L329.8 262.7 L332.0 259.3 L334.2 256.0 L336.7 252.6 L339.3 249.2 L342.0 245.9 L344.9 242.6 L347.8 239.4 L350.9 236.2 L354.1 233.1 L357.3 230.2 L360.6 227.3 L363.9 224.6 L367.3 222.0 L370.7 219.5 L374.0 217.3 L377.4 215.1 L380.8 213.2 L384.1 211.4 L387.3 209.9 L390.5 208.5 L393.6 207.3 L396.6 206.4 L399.5 205.7 L402.3 205.1 L404.9 204.8 L407.4 204.8 L409.7 204.9 L411.9 205.3 L413.9 205.9 L415.7 206.7 L417.4 207.7Z" fill="#f064a0"/></g>
<g clip-path="url(#vdc2)"><g clip-path="url(#vdc1)"><path d="M389.9 324.5 L388.0 326.3 L385.9 327.7 L383.6 329.0 L381.1 330.0 L378.5 330.9 L375.7 331.4 L372.7 331.8 L369.6 331.9 L366.4 331.7 L363.1 331.3 L359.6 330.7 L356.2 329.8 L352.6 328.8 L349.0 327.5 L345.3 325.9 L341.7 324.2 L338.0 322.2 L334.4 320.1 L330.8 317.7 L327.2 315.2 L323.7 312.5 L320.2 309.7 L316.9 306.7 L313.7 303.5 L310.5 300.3 L307.5 297.0 L304.7 293.5 L302.0 290.0 L299.5 286.4 L297.1 282.8 L295.0 279.2 L293.0 275.5 L291.3 271.9 L289.7 268.2 L288.4 264.6 L287.4 261.1 L286.5 257.6 L285.9 254.1 L285.5 250.8 L285.3 247.6 L285.4 244.5 L285.8 241.5 L286.3 238.7 L287.2 236.1 L288.2 233.6 L289.5 231.3 L290.9 229.2 L292.7 227.3 L294.6 225.5 L296.7 224.1 L299.0 222.8 L301.5 221.8 L304.1 220.9 L306.9 220.4 L309.9 220.0 L313.0 219.9 L316.2 220.1 L319.5 220.5 L323.0 221.1 L326.4 221.9 L330.0 223.0 L333.6 224.3 L337.3 225.9 L340.9 227.6 L344.6 229.6 L348.2 231.7 L351.8 234.1 L355.4 236.6 L358.9 239.3 L362.4 242.1 L365.7 245.1 L368.9 248.3 L372.1 251.5 L375.1 254.8 L377.9 258.3 L380.6 261.8 L383.1 265.4 L385.5 269.0 L387.6 272.6 L389.6 276.3 L391.3 279.9 L392.9 283.6 L394.2 287.2 L395.2 290.7 L396.1 294.2 L396.7 297.7 L397.1 301.0 L397.3 304.2 L397.2 307.3 L396.8 310.3 L396.3 313.1 L395.4 315.7 L394.4 318.2 L393.1 320.5 L391.7 322.6Z" fill="#14a582"/></g></g>
<g clip-path="url(#vdc3)"><g clip-path="url(#vdc1)"><path d="M389.9 324.5 L388.0 326.3 L385.9 327.7 L383.6 329.0 L381.1 330.0 L378.5 330.9 L375.7 331.4 L372.7 331.8 L369.6 331.9 L366.4 331.7 L363.1 331.3 L359.6 330.7 L356.2 329.8 L352.6 328.8 L349.0 327.5 L345.3 325.9 L341.7 324.2 L338.0 322.2 L334.4 320.1 L330.8 317.7 L327.2 315.2 L323.7 312.5 L320.2 309.7 L316.9 306.7 L313.7 303.5 L310.5 300.3 L307.5 297.0 L304.7 293.5 L302.0 290.0 L299.5 286.4 L297.1 282.8 L295.0 279.2 L293.0 275.5 L291.3 271.9 L289.7 268.2 L288.4 264.6 L287.4 261.1 L286.5 257.6 L285.9 254.1 L285.5 250.8 L285.3 247.6 L285.4 244.5 L285.8 241.5 L286.3 238.7 L287.2 236.1 L288.2 233.6 L289.5 231.3 L290.9 229.2 L292.7 227.3 L294.6 225.5 L296.7 224.1 L299.0 222.8 L301.5 221.8 L304.1 220.9 L306.9 220.4 L309.9 220.0 L313.0 219.9 L316.2 220.1 L319.5 220.5 L323.0 221.1 L326.4 221.9 L330.0 223.0 L333.6 224.3 L337.3 225.9 L340.9 227.6 L344.6 229.6 L348.2 231.7 L351.8 234.1 L355.4 236.6 L358.9 239.3 L362.4 242.1 L365.7 245.1 L368.9 248.3 L372.1 251.5 L375.1 254.8 L377.9 258.3 L380.6 261.8 L383.1 265.4 L385.5 269.0 L387.6 272.6 L389.6 276.3 L391.3 279.9 L392.9 283.6 L394.2 287.2 L395.2 290.7 L396.1 294.2 L396.7 297.7 L397.1 301.0 L397.3 304.2 L397.2 307.3 L396.8 310.3 L396.3 313.1 L395.4 315.7 L394.4 318.2 L393.1 320.5 L391.7 322.6Z" fill="#14af6e"/></g></g>
<g clip-path="url(#vdc3)"><g clip-path="url(#vdc2)"><path d="M389.9 324.5 L388.0 326.3 L385.9 327.7 L383.6 329.0 L381.1 330.0 L378.5 330.9 L375.7 331.4 L372.7 331.8 L369.6 331.9 L366.4 331.7 L363.1 331.3 L359.6 330.7 L356.2 329.8 L352.6 328.8 L349.0 327.5 L345.3 325.9 L341.7 324.2 L338.0 322.2 L334.4 320.1 L330.8 317.7 L327.2 315.2 L323.7 312.5 L320.2 309.7 L316.9 306.7 L313.7 303.5 L310.5 300.3 L307.5 297.0 L304.7 293.5 L302.0 290.0 L299.5 286.4 L297.1 282.8 L295.0 279.2 L293.0 275.5 L291.3 271.9 L289.7 268.2 L288.4 264.6 L287.4 261.1 L286.5 257.6 L285.9 254.1 L285.5 250.8 L285.3 247.6 L285.4 244.5 L285.8 241.5 L286.3 238.7 L287.2 236.1 L288.2 233.6 L289.5 231.3 L290.9 229.2 L292.7 227.3 L294.6 225.5 L296.7 224.1 L299.0 222.8 L301.5 221.8 L304.1 220.9 L306.9 220.4 L309.9 220.0 L313.0 219.9 L316.2 220.1 L319.5 220.5 L323.0 221.1 L326.4 221.9 L330.0 223.0 L333.6 224.3 L337.3 225.9 L340.9 227.6 L344.6 229.6 L348.2 231.7 L351.8 234.1 L355.4 236.6 L358.9 239.3 L362.4 242.1 L365.7 245.1 L368.9 248.3 L372.1 251.5 L375.1 254.8 L377.9 258.3 L380.6 261.8 L383.1 265.4 L385.5 269.0 L387.6 272.6 L389.6 276.3 L391.3 279.9 L392.9 283.6 L394.2 287.2 L395.2 290.7 L396.1 294.2 L396.7 297.7 L397.1 301.0 L397.3 304.2 L397.2 307.3 L396.8 310.3 L396.3 313.1 L395.4 315.7 L394.4 318.2 L393.1 320.5 L391.7 322.6Z" fill="#c36ebe"/></g></g>
<g clip-path="url(#vdc3)"><g clip-path="url(#vdc2)"><path d="M418.8 304.1 L417.4 305.3 L415.7 306.3 L413.9 307.1 L411.9 307.7 L409.7 308.1 L407.4 308.2 L404.9 308.2 L402.3 307.9 L399.5 307.3 L396.6 306.6 L393.6 305.7 L390.5 304.5 L387.3 303.1 L384.1 301.6 L380.8 299.8 L377.4 297.9 L374.0 295.7 L370.7 293.5 L367.3 291.0 L363.9 288.4 L360.6 285.7 L357.3 282.8 L354.1 279.9 L350.9 276.8 L347.8 273.6 L344.9 270.4 L342.0 267.1 L339.3 263.8 L336.7 260.4 L334.2 257.0 L332.0 253.7 L329.8 250.3 L327.9 246.9 L326.1 243.6 L324.6 240.4 L323.2 237.2 L322.0 234.1 L321.1 231.1 L320.4 228.2 L319.8 225.4 L319.5 222.8 L319.5 220.3 L319.6 218.0 L320.0 215.8 L320.6 213.8 L321.4 212.0 L322.4 210.3 L323.6 208.9 L325.0 207.7 L326.7 206.7 L328.5 205.9 L330.5 205.3 L332.7 204.9 L335.0 204.8 L337.5 204.8 L340.1 205.1 L342.9 205.7 L345.8 206.4 L348.8 207.3 L351.9 208.5 L355.1 209.9 L358.3 211.4 L361.6 213.2 L365.0 215.1 L368.4 217.3 L371.7 219.5 L375.1 222.0 L378.5 224.6 L381.8 227.3 L385.1 230.2 L388.3 233.1 L391.5 236.2 L394.6 239.4 L397.5 242.6 L400.4 245.9 L403.1 249.2 L405.7 252.6 L408.2 256.0 L410.4 259.3 L412.6 262.7 L414.5 266.1 L416.3 269.4 L417.8 272.6 L419.2 275.8 L420.4 278.9 L421.3 281.9 L422.0 284.8 L422.6 287.6 L422.9 290.2 L422.9 292.7 L422.8 295.0 L422.4 297.2 L421.8 299.2 L421.0 301.0 L420.0 302.7Z" fill="#32a07d"/></g></g>
<g clip-path="url(#vdc3)"><g clip-path="url(#vdc2)"><g clip-path="url(#vdc1)"><path d="M389.9 324.5 L388.0 326.3 L385.9 327.7 L383.6 329.0 L381.1 330.0 L378.5 330.9 L375.7 331.4 L372.7 331.8 L369.6 331.9 L366.4 331.7 L363.1 331.3 L359.6 330.7 L356.2 329.8 L352.6 328.8 L349.0 327.5 L345.3 325.9 L341.7 324.2 L338.0 322.2 L334.4 320.1 L330.8 317.7 L327.2 315.2 L323.7 312.5 L320.2 309.7 L316.9 306.7 L313.7 303.5 L310.5 300.3 L307.5 297.0 L304.7 293.5 L302.0 290.0 L299.5 286.4 L297.1 282.8 L295.0 279.2 L293.0 275.5 L291.3 271.9 L289.7 268.2 L288.4 264.6 L287.4 261.1 L286.5 257.6 L285.9 254.1 L285.5 250.8 L285.3 247.6 L285.4 244.5 L285.8 241.5 L286.3 238.7 L287.2 236.1 L288.2 233.6 L289.5 231.3 L290.9 229.2 L292.7 227.3 L294.6 225.5 L296.7 224.1 L299.0 222.8 L301.5 221.8 L304.1 220.9 L306.9 220.4 L309.9 220.0 L313.0 219.9 L316.2 220.1 L319.5 220.5 L323.0 221.1 L326.4 221.9 L330.0 223.0 L333.6 224.3 L337.3 225.9 L340.9 227.6 L344.6 229.6 L348.2 231.7 L351.8 234.1 L355.4 236.6 L358.9 239.3 L362.4 242.1 L365.7 245.1 L368.9 248.3 L372.1 251.5 L375.1 254.8 L377.9 258.3 L380.6 261.8 L383.1 265.4 L385.5 269.0 L387.6 272.6 L389.6 276.3 L391.3 279.9 L392.9 283.6 L394.2 287.2 L395.2 290.7 L396.1 294.2 L396.7 297.7 L397.1 301.0 L397.3 304.2 L397.2 307.3 L396.8 310.3 L396.3 313.1 L395.4 315.7 L394.4 318.2 L393.1 320.5 L391.7 322.6Z" fill="#0f9b7d"/></g></g></g>
<path d="M389.9 324.5 L388.0 326.3 L385.9 327.7 L383.6 329.0 L381.1 330.0 L378.5 330.9 L375.7 331.4 L372.7 331.8 L369.6 331.9 L366.4 331.7 L363.1 331.3 L359.6 330.7 L356.2 329.8 L352.6 328.8 L349.0 327.5 L345.3 325.9 L341.7 324.2 L338.0 322.2 L334.4 320.1 L330.8 317.7 L327.2 315.2 L323.7 312.5 L320.2 309.7 L316.9 306.7 L313.7 303.5 L310.5 300.3 L307.5 297.0 L304.7 293.5 L302.0 290.0 L299.5 286.4 L297.1 282.8 L295.0 279.2 L293.0 275.5 L291.3 271.9 L289.7 268.2 L288.4 264.6 L287.4 261.1 L286.5 257.6 L285.9 254.1 L285.5 250.8 L285.3 247.6 L285.4 244.5 L285.8 241.5 L286.3 238.7 L287.2 236.1 L288.2 233.6 L289.5 231.3 L290.9 229.2 L292.7 227.3 L294.6 225.5 L296.7 224.1 L299.0 222.8 L301.5 221.8 L304.1 220.9 L306.9 220.4 L309.9 220.0 L313.0 219.9 L316.2 220.1 L319.5 220.5 L323.0 221.1 L326.4 221.9 L330.0 223.0 L333.6 224.3 L337.3 225.9 L340.9 227.6 L344.6 229.6 L348.2 231.7 L351.8 234.1 L355.4 236.6 L358.9 239.3 L362.4 242.1 L365.7 245.1 L368.9 248.3 L372.1 251.5 L375.1 254.8 L377.9 258.3 L380.6 261.8 L383.1 265.4 L385.5 269.0 L387.6 272.6 L389.6 276.3 L391.3 279.9 L392.9 283.6 L394.2 287.2 L395.2 290.7 L396.1 294.2 L396.7 297.7 L397.1 301.0 L397.3 304.2 L397.2 307.3 L396.8 310.3 L396.3 313.1 L395.4 315.7 L394.4 318.2 L393.1 320.5 L391.7 322.6Z" fill="none" stroke="#0a0a0a" stroke-width="1"/>
<path d="M418.8 304.1 L417.4 305.3 L415.7 306.3 L413.9 307.1 L411.9 307.7 L409.7 308.1 L407.4 308.2 L404.9 308.2 L402.3 307.9 L399.5 307.3 L396.6 306.6 L393.6 305.7 L390.5 304.5 L387.3 303.1 L384.1 301.6 L380.8 299.8 L377.4 297.9 L374.0 295.7 L370.7 293.5 L367.3 291.0 L363.9 288.4 L360.6 285.7 L357.3 282.8 L354.1 279.9 L350.9 276.8 L347.8 273.6 L344.9 270.4 L342.0 267.1 L339.3 263.8 L336.7 260.4 L334.2 257.0 L332.0 253.7 L329.8 250.3 L327.9 246.9 L326.1 243.6 L324.6 240.4 L323.2 237.2 L322.0 234.1 L321.1 231.1 L320.4 228.2 L319.8 225.4 L319.5 222.8 L319.5 220.3 L319.6 218.0 L320.0 215.8 L320.6 213.8 L321.4 212.0 L322.4 210.3 L323.6 208.9 L325.0 207.7 L326.7 206.7 L328.5 205.9 L330.5 205.3 L332.7 204.9 L335.0 204.8 L337.5 204.8 L340.1 205.1 L342.9 205.7 L345.8 206.4 L348.8 207.3 L351.9 208.5 L355.1 209.9 L358.3 211.4 L361.6 213.2 L365.0 215.1 L368.4 217.3 L371.7 219.5 L375.1 222.0 L378.5 224.6 L381.8 227.3 L385.1 230.2 L388.3 233.1 L391.5 236.2 L394.6 239.4 L397.5 242.6 L400.4 245.9 L403.1 249.2 L405.7 252.6 L408.2 256.0 L410.4 259.3 L412.6 262.7 L414.5 266.1 L416.3 269.4 L417.8 272.6 L419.2 275.8 L420.4 278.9 L421.3 281.9 L422.0 284.8 L422.6 287.6 L422.9 290.2 L422.9 292.7 L422.8 295.0 L422.4 297.2 L421.8 299.2 L421.0 301.0 L420.0 302.7Z" fill="none" stroke="#0a0a0a" stroke-width="1"/>
<path d="M418.8 208.9 L420.0 210.3 L421.0 212.0 L421.8 213.8 L422.4 215.8 L422.8 218.0 L422.9 220.3 L422.9 222.8 L422.6 225.4 L422.0 228.2 L421.3 231.1 L420.4 234.1 L419.2 237.2 L417.8 240.4 L416.3 243.6 L414.5 246.9 L412.6 250.3 L410.4 253.7 L408.2 257.0 L405.7 260.4 L403.1 263.8 L400.4 267.1 L397.5 270.4 L394.6 273.6 L391.5 276.8 L388.3 279.9 L385.1 282.8 L381.8 285.7 L378.5 288.4 L375.1 291.0 L371.7 293.5 L368.4 295.7 L365.0 297.9 L361.6 299.8 L358.3 301.6 L355.1 303.1 L351.9 304.5 L348.8 305.7 L345.8 306.6 L342.9 307.3 L340.1 307.9 L337.5 308.2 L335.0 308.2 L332.7 308.1 L330.5 307.7 L328.5 307.1 L326.7 306.3 L325.0 305.3 L323.6 304.1 L322.4 302.7 L321.4 301.0 L320.6 299.2 L320.0 297.2 L319.6 295.0 L319.5 292.7 L319.5 290.2 L319.8 287.6 L320.4 284.8 L321.1 281.9 L322.0 278.9 L323.2 275.8 L324.6 272.6 L326.1 269.4 L327.9 266.1 L329.8 262.7 L332.0 259.3 L334.2 256.0 L336.7 252.6 L339.3 249.2 L342.0 245.9 L344.9 242.6 L347.8 239.4 L350.9 236.2 L354.1 233.1 L357.3 230.2 L360.6 227.3 L363.9 224.6 L367.3 222.0 L370.7 219.5 L374.0 217.3 L377.4 215.1 L380.8 213.2 L384.1 211.4 L387.3 209.9 L390.5 208.5 L393.6 207.3 L396.6 206.4 L399.5 205.7 L402.3 205.1 L404.9 204.8 L407.4 204.8 L409.7 204.9 L411.9 205.3 L413.9 205.9 L415.7 206.7 L417.4 207.7Z" fill="none" stroke="#0a0a0a" stroke-width="1"/>
<path d="M449.7 227.3 L451.5 229.2 L452.9 231.3 L454.2 233.6 L455.2 236.1 L456.1 238.7 L456.6 241.5 L457.0 244.5 L457.1 247.6 L456.9 250.8 L456.5 254.1 L455.9 257.6 L455.1 261.0 L454.0 264.6 L452.7 268.2 L451.1 271.9 L449.4 275.5 L447.4 279.2 L445.3 282.8 L442.9 286.4 L440.4 290.0 L437.7 293.5 L434.9 297.0 L431.9 300.3 L428.7 303.5 L425.5 306.7 L422.2 309.7 L418.7 312.5 L415.2 315.2 L411.6 317.7 L408.0 320.1 L404.4 322.2 L400.7 324.2 L397.1 325.9 L393.4 327.5 L389.8 328.8 L386.2 329.8 L382.8 330.7 L379.3 331.3 L376.0 331.7 L372.8 331.9 L369.7 331.8 L366.7 331.4 L363.9 330.9 L361.3 330.0 L358.8 329.0 L356.5 327.7 L354.4 326.3 L352.5 324.5 L350.7 322.6 L349.3 320.5 L348.0 318.2 L347.0 315.7 L346.1 313.1 L345.6 310.3 L345.2 307.3 L345.1 304.2 L345.3 301.0 L345.7 297.7 L346.3 294.2 L347.1 290.8 L348.2 287.2 L349.5 283.6 L351.1 279.9 L352.8 276.3 L354.8 272.6 L356.9 269.0 L359.3 265.4 L361.8 261.8 L364.5 258.3 L367.3 254.8 L370.3 251.5 L373.5 248.3 L376.7 245.1 L380.0 242.1 L383.5 239.3 L387.0 236.6 L390.6 234.1 L394.2 231.7 L397.8 229.6 L401.5 227.6 L405.1 225.9 L408.8 224.3 L412.4 223.0 L415.9 221.9 L419.4 221.1 L422.9 220.5 L426.2 220.1 L429.4 219.9 L432.5 220.0 L435.5 220.4 L438.3 220.9 L440.9 221.8 L443.4 222.8 L445.7 224.1 L447.8 225.5Z" fill="none" stroke="#0a0a0a" stroke-width="1"/>
<text x="295.8" y="216.6" font-size="6.95" text-anchor="middle" fill="#222">LFC vs JFC</text>
<text x="333.2" y="199.7" font-size="6.95" text-anchor="middle" fill="#222">LFC vs HBG</text>
<text x="408" y="199.7" font-size="6.95" text-anchor="middle" fill="#222">LFC vs FHXN</text>
<text x="449" y="216.6" font-size="6.95" text-anchor="middle" fill="#222">LFC vs BSH</text>
<text x="341" y="220.8" font-size="9.2" text-anchor="middle" fill="#12222c" stroke="#12222c" stroke-width="0.25">1</text>
<text x="401" y="220.8" font-size="9.2" text-anchor="middle" fill="#12222c" stroke="#12222c" stroke-width="0.25">5</text>
<text x="333.5" y="239.8" font-size="9.2" text-anchor="middle" fill="#12222c" stroke="#12222c" stroke-width="0.25">0</text>
<text x="371" y="235.8" font-size="9.2" text-anchor="middle" fill="#12222c" stroke="#12222c" stroke-width="0.25">0</text>
<text x="408.5" y="239.8" font-size="9.2" text-anchor="middle" fill="#12222c" stroke="#12222c" stroke-width="0.25">0</text>
<text x="307.5" y="257.3" font-size="9.2" text-anchor="middle" fill="#12222c" stroke="#12222c" stroke-width="0.25">1</text>
<text x="351.5" y="257.3" font-size="9.2" text-anchor="middle" fill="#12222c" stroke="#12222c" stroke-width="0.25">3</text>
<text x="390" y="257.3" font-size="9.2" text-anchor="middle" fill="#12222c" stroke="#12222c" stroke-width="0.25">3</text>
<text x="433.5" y="257.3" font-size="9.2" text-anchor="middle" fill="#12222c" stroke="#12222c" stroke-width="0.25">2</text>
<text x="371" y="279.3" font-size="9.2" text-anchor="middle" fill="#12222c" stroke="#12222c" stroke-width="0.25">24</text>
<text x="336" y="289.3" font-size="9.2" text-anchor="middle" fill="#12222c" stroke="#12222c" stroke-width="0.25">0</text>
<text x="406" y="289.3" font-size="9.2" text-anchor="middle" fill="#12222c" stroke="#12222c" stroke-width="0.25">0</text>
<text x="356" y="297.3" font-size="9.2" text-anchor="middle" fill="#12222c" stroke="#12222c" stroke-width="0.25">0</text>
<text x="385" y="297.3" font-size="9.2" text-anchor="middle" fill="#12222c" stroke="#12222c" stroke-width="0.25">0</text>
<text x="371" y="317.3" font-size="9.2" text-anchor="middle" fill="#12222c" stroke="#12222c" stroke-width="0.25">0</text>
</g>
<g id="heat">
<rect x="53.40" y="410.80" width="14.57" height="7.66" fill="#ff0f0f"/>
<rect x="69.17" y="410.80" width="14.57" height="7.66" fill="#f7c993"/>
<rect x="84.94" y="410.80" width="14.57" height="7.66" fill="#fcaf7f"/>
<rect x="100.71" y="410.80" width="14.57" height="7.66" fill="#61c1be"/>
<rect x="116.48" y="410.80" width="14.57" height="7.66" fill="#81c9b9"/>
<rect x="132.25" y="410.80" width="14.57" height="7.66" fill="#50bdc1"/>
<rect x="148.02" y="410.80" width="14.57" height="7.66" fill="#81c9b9"/>
<rect x="163.79" y="410.80" width="14.57" height="7.66" fill="#50bdc1"/>
<rect x="179.56" y="410.80" width="14.57" height="7.66" fill="#61c1be"/>
<rect x="195.33" y="410.80" width="14.57" height="7.66" fill="#2fb5c6"/>
<rect x="211.10" y="410.80" width="14.57" height="7.66" fill="#40b9c3"/>
<rect x="226.87" y="410.80" width="14.57" height="7.66" fill="#40b9c3"/>
<rect x="242.64" y="410.80" width="14.57" height="7.66" fill="#f7c993"/>
<rect x="258.41" y="410.80" width="14.57" height="7.66" fill="#d7e1ae"/>
<rect x="274.18" y="410.80" width="14.57" height="7.66" fill="#f2dea2"/>
<rect x="53.40" y="419.66" width="14.57" height="7.66" fill="#ff0f0f"/>
<rect x="69.17" y="419.66" width="14.57" height="7.66" fill="#f1e4a7"/>
<rect x="84.94" y="419.66" width="14.57" height="7.66" fill="#fabc89"/>
<rect x="100.71" y="419.66" width="14.57" height="7.66" fill="#50bdc1"/>
<rect x="116.48" y="419.66" width="14.57" height="7.66" fill="#81c9b9"/>
<rect x="132.25" y="419.66" width="14.57" height="7.66" fill="#2fb5c6"/>
<rect x="148.02" y="419.66" width="14.57" height="7.66" fill="#81c9b9"/>
<rect x="163.79" y="419.66" width="14.57" height="7.66" fill="#40b9c3"/>
<rect x="179.56" y="419.66" width="14.57" height="7.66" fill="#50bdc1"/>
<rect x="195.33" y="419.66" width="14.57" height="7.66" fill="#2fb5c6"/>
<rect x="211.10" y="419.66" width="14.57" height="7.66" fill="#40b9c3"/>
<rect x="226.87" y="419.66" width="14.57" height="7.66" fill="#2fb5c6"/>
<rect x="242.64" y="419.66" width="14.57" height="7.66" fill="#f8c38e"/>
<rect x="258.41" y="419.66" width="14.57" height="7.66" fill="#f8c38e"/>
<rect x="274.18" y="419.66" width="14.57" height="7.66" fill="#f8c38e"/>
<rect x="53.40" y="428.52" width="14.57" height="7.66" fill="#f5d098"/>
<rect x="69.17" y="428.52" width="14.57" height="7.66" fill="#fd956c"/>
<rect x="84.94" y="428.52" width="14.57" height="7.66" fill="#afd6b3"/>
<rect x="100.71" y="428.52" width="14.57" height="7.66" fill="#afd6b3"/>
<rect x="116.48" y="428.52" width="14.57" height="7.66" fill="#72c5bc"/>
<rect x="132.25" y="428.52" width="14.57" height="7.66" fill="#90cdb7"/>
<rect x="148.02" y="428.52" width="14.57" height="7.66" fill="#e1e4ac"/>
<rect x="163.79" y="428.52" width="14.57" height="7.66" fill="#fabc89"/>
<rect x="179.56" y="428.52" width="14.57" height="7.66" fill="#f4d79d"/>
<rect x="195.33" y="428.52" width="14.57" height="7.66" fill="#0ca0d6"/>
<rect x="211.10" y="428.52" width="14.57" height="7.66" fill="#0ea3d4"/>
<rect x="226.87" y="428.52" width="14.57" height="7.66" fill="#099cd9"/>
<rect x="242.64" y="428.52" width="14.57" height="7.66" fill="#f4d79d"/>
<rect x="258.41" y="428.52" width="14.57" height="7.66" fill="#fd956c"/>
<rect x="274.18" y="428.52" width="14.57" height="7.66" fill="#fabc89"/>
<rect x="53.40" y="437.38" width="14.57" height="7.66" fill="#f5d098"/>
<rect x="69.17" y="437.38" width="14.57" height="7.66" fill="#ff6e50"/>
<rect x="84.94" y="437.38" width="14.57" height="7.66" fill="#ebe7ab"/>
<rect x="100.71" y="437.38" width="14.57" height="7.66" fill="#fcaf7f"/>
<rect x="116.48" y="437.38" width="14.57" height="7.66" fill="#a0d1b5"/>
<rect x="132.25" y="437.38" width="14.57" height="7.66" fill="#afd6b3"/>
<rect x="148.02" y="437.38" width="14.57" height="7.66" fill="#81c9b9"/>
<rect x="163.79" y="437.38" width="14.57" height="7.66" fill="#f1e4a7"/>
<rect x="179.56" y="437.38" width="14.57" height="7.66" fill="#cddeaf"/>
<rect x="195.33" y="437.38" width="14.57" height="7.66" fill="#099cd9"/>
<rect x="211.10" y="437.38" width="14.57" height="7.66" fill="#0ca0d6"/>
<rect x="226.87" y="437.38" width="14.57" height="7.66" fill="#0ea3d4"/>
<rect x="242.64" y="437.38" width="14.57" height="7.66" fill="#bedab1"/>
<rect x="258.41" y="437.38" width="14.57" height="7.66" fill="#f8c38e"/>
<rect x="274.18" y="437.38" width="14.57" height="7.66" fill="#fabc89"/>
<rect x="53.40" y="446.24" width="14.57" height="7.66" fill="#fd9d73"/>
<rect x="69.17" y="446.24" width="14.57" height="7.66" fill="#f8c38e"/>
<rect x="84.94" y="446.24" width="14.57" height="7.66" fill="#61c1be"/>
<rect x="100.71" y="446.24" width="14.57" height="7.66" fill="#fcaf7f"/>
<rect x="116.48" y="446.24" width="14.57" height="7.66" fill="#50bdc1"/>
<rect x="132.25" y="446.24" width="14.57" height="7.66" fill="#a0d1b5"/>
<rect x="148.02" y="446.24" width="14.57" height="7.66" fill="#1eb1c9"/>
<rect x="163.79" y="446.24" width="14.57" height="7.66" fill="#90cdb7"/>
<rect x="179.56" y="446.24" width="14.57" height="7.66" fill="#61c1be"/>
<rect x="195.33" y="446.24" width="14.57" height="7.66" fill="#13abcd"/>
<rect x="211.10" y="446.24" width="14.57" height="7.66" fill="#12a8cf"/>
<rect x="226.87" y="446.24" width="14.57" height="7.66" fill="#13abcd"/>
<rect x="242.64" y="446.24" width="14.57" height="7.66" fill="#fabc89"/>
<rect x="258.41" y="446.24" width="14.57" height="7.66" fill="#fbb584"/>
<rect x="274.18" y="446.24" width="14.57" height="7.66" fill="#fe7857"/>
<rect x="53.40" y="455.10" width="14.57" height="7.66" fill="#ebe7ab"/>
<rect x="69.17" y="455.10" width="14.57" height="7.66" fill="#e1e4ac"/>
<rect x="84.94" y="455.10" width="14.57" height="7.66" fill="#90cdb7"/>
<rect x="100.71" y="455.10" width="14.57" height="7.66" fill="#a0d1b5"/>
<rect x="116.48" y="455.10" width="14.57" height="7.66" fill="#81c9b9"/>
<rect x="132.25" y="455.10" width="14.57" height="7.66" fill="#61c1be"/>
<rect x="148.02" y="455.10" width="14.57" height="7.66" fill="#90cdb7"/>
<rect x="163.79" y="455.10" width="14.57" height="7.66" fill="#afd6b3"/>
<rect x="179.56" y="455.10" width="14.57" height="7.66" fill="#cddeaf"/>
<rect x="195.33" y="455.10" width="14.57" height="7.66" fill="#12a8cf"/>
<rect x="211.10" y="455.10" width="14.57" height="7.66" fill="#12a8cf"/>
<rect x="226.87" y="455.10" width="14.57" height="7.66" fill="#15aecb"/>
<rect x="242.64" y="455.10" width="14.57" height="7.66" fill="#f8c38e"/>
<rect x="258.41" y="455.10" width="14.57" height="7.66" fill="#ff4b37"/>
<rect x="274.18" y="455.10" width="14.57" height="7.66" fill="#fd8b65"/>
<rect x="53.40" y="463.96" width="14.57" height="7.66" fill="#fd9d73"/>
<rect x="69.17" y="463.96" width="14.57" height="7.66" fill="#afd6b3"/>
<rect x="84.94" y="463.96" width="14.57" height="7.66" fill="#a0d1b5"/>
<rect x="100.71" y="463.96" width="14.57" height="7.66" fill="#cddeaf"/>
<rect x="116.48" y="463.96" width="14.57" height="7.66" fill="#afd6b3"/>
<rect x="132.25" y="463.96" width="14.57" height="7.66" fill="#90cdb7"/>
<rect x="148.02" y="463.96" width="14.57" height="7.66" fill="#81c9b9"/>
<rect x="163.79" y="463.96" width="14.57" height="7.66" fill="#afd6b3"/>
<rect x="179.56" y="463.96" width="14.57" height="7.66" fill="#a0d1b5"/>
<rect x="195.33" y="463.96" width="14.57" height="7.66" fill="#13abcd"/>
<rect x="211.10" y="463.96" width="14.57" height="7.66" fill="#13abcd"/>
<rect x="226.87" y="463.96" width="14.57" height="7.66" fill="#13abcd"/>
<rect x="242.64" y="463.96" width="14.57" height="7.66" fill="#72c5bc"/>
<rect x="258.41" y="463.96" width="14.57" height="7.66" fill="#fcaf7f"/>
<rect x="274.18" y="463.96" width="14.57" height="7.66" fill="#ff3a2c"/>
<rect x="53.40" y="472.82" width="14.57" height="7.66" fill="#ebe7ab"/>
<rect x="69.17" y="472.82" width="14.57" height="7.66" fill="#50bdc1"/>
<rect x="84.94" y="472.82" width="14.57" height="7.66" fill="#90cdb7"/>
<rect x="100.71" y="472.82" width="14.57" height="7.66" fill="#0ea3d4"/>
<rect x="116.48" y="472.82" width="14.57" height="7.66" fill="#50bdc1"/>
<rect x="132.25" y="472.82" width="14.57" height="7.66" fill="#10a6d2"/>
<rect x="148.02" y="472.82" width="14.57" height="7.66" fill="#afd6b3"/>
<rect x="163.79" y="472.82" width="14.57" height="7.66" fill="#f1e4a7"/>
<rect x="179.56" y="472.82" width="14.57" height="7.66" fill="#ff6448"/>
<rect x="195.33" y="472.82" width="14.57" height="7.66" fill="#d7e1ae"/>
<rect x="211.10" y="472.82" width="14.57" height="7.66" fill="#f7c993"/>
<rect x="226.87" y="472.82" width="14.57" height="7.66" fill="#f2dea2"/>
<rect x="242.64" y="472.82" width="14.57" height="7.66" fill="#72c5bc"/>
<rect x="258.41" y="472.82" width="14.57" height="7.66" fill="#f8c38e"/>
<rect x="274.18" y="472.82" width="14.57" height="7.66" fill="#f8c38e"/>
<rect x="53.40" y="481.68" width="14.57" height="7.66" fill="#81c9b9"/>
<rect x="69.17" y="481.68" width="14.57" height="7.66" fill="#a0d1b5"/>
<rect x="84.94" y="481.68" width="14.57" height="7.66" fill="#10a6d2"/>
<rect x="100.71" y="481.68" width="14.57" height="7.66" fill="#72c5bc"/>
<rect x="116.48" y="481.68" width="14.57" height="7.66" fill="#72c5bc"/>
<rect x="132.25" y="481.68" width="14.57" height="7.66" fill="#e1e4ac"/>
<rect x="148.02" y="481.68" width="14.57" height="7.66" fill="#e1e4ac"/>
<rect x="163.79" y="481.68" width="14.57" height="7.66" fill="#1eb1c9"/>
<rect x="179.56" y="481.68" width="14.57" height="7.66" fill="#d7e1ae"/>
<rect x="195.33" y="481.68" width="14.57" height="7.66" fill="#81c9b9"/>
<rect x="211.10" y="481.68" width="14.57" height="7.66" fill="#72c5bc"/>
<rect x="226.87" y="481.68" width="14.57" height="7.66" fill="#a0d1b5"/>
<rect x="242.64" y="481.68" width="14.57" height="7.66" fill="#fcaf7f"/>
<rect x="258.41" y="481.68" width="14.57" height="7.66" fill="#fe825e"/>
<rect x="274.18" y="481.68" width="14.57" height="7.66" fill="#ff4b37"/>
<rect x="53.40" y="490.54" width="14.57" height="7.66" fill="#1eb1c9"/>
<rect x="69.17" y="490.54" width="14.57" height="7.66" fill="#15aecb"/>
<rect x="84.94" y="490.54" width="14.57" height="7.66" fill="#15aecb"/>
<rect x="100.71" y="490.54" width="14.57" height="7.66" fill="#81c9b9"/>
<rect x="116.48" y="490.54" width="14.57" height="7.66" fill="#72c5bc"/>
<rect x="132.25" y="490.54" width="14.57" height="7.66" fill="#61c1be"/>
<rect x="148.02" y="490.54" width="14.57" height="7.66" fill="#72c5bc"/>
<rect x="163.79" y="490.54" width="14.57" height="7.66" fill="#90cdb7"/>
<rect x="179.56" y="490.54" width="14.57" height="7.66" fill="#e1e4ac"/>
<rect x="195.33" y="490.54" width="14.57" height="7.66" fill="#afd6b3"/>
<rect x="211.10" y="490.54" width="14.57" height="7.66" fill="#bedab1"/>
<rect x="226.87" y="490.54" width="14.57" height="7.66" fill="#cddeaf"/>
<rect x="242.64" y="490.54" width="14.57" height="7.66" fill="#fe825e"/>
<rect x="258.41" y="490.54" width="14.57" height="7.66" fill="#ff533d"/>
<rect x="274.18" y="490.54" width="14.57" height="7.66" fill="#fcaf7f"/>
<rect x="53.40" y="499.40" width="14.57" height="7.66" fill="#d7e1ae"/>
<rect x="69.17" y="499.40" width="14.57" height="7.66" fill="#cddeaf"/>
<rect x="84.94" y="499.40" width="14.57" height="7.66" fill="#81c9b9"/>
<rect x="100.71" y="499.40" width="14.57" height="7.66" fill="#16afca"/>
<rect x="116.48" y="499.40" width="14.57" height="7.66" fill="#16afca"/>
<rect x="132.25" y="499.40" width="14.57" height="7.66" fill="#90cdb7"/>
<rect x="148.02" y="499.40" width="14.57" height="7.66" fill="#72c5bc"/>
<rect x="163.79" y="499.40" width="14.57" height="7.66" fill="#15aecb"/>
<rect x="179.56" y="499.40" width="14.57" height="7.66" fill="#10a6d2"/>
<rect x="195.33" y="499.40" width="14.57" height="7.66" fill="#fd8b65"/>
<rect x="211.10" y="499.40" width="14.57" height="7.66" fill="#fe825e"/>
<rect x="226.87" y="499.40" width="14.57" height="7.66" fill="#fe7857"/>
<rect x="242.64" y="499.40" width="14.57" height="7.66" fill="#f1e4a7"/>
<rect x="258.41" y="499.40" width="14.57" height="7.66" fill="#e1e4ac"/>
<rect x="274.18" y="499.40" width="14.57" height="7.66" fill="#f8c38e"/>
<rect x="53.40" y="508.26" width="14.57" height="7.66" fill="#2fb5c6"/>
<rect x="69.17" y="508.26" width="14.57" height="7.66" fill="#50bdc1"/>
<rect x="84.94" y="508.26" width="14.57" height="7.66" fill="#40b9c3"/>
<rect x="100.71" y="508.26" width="14.57" height="7.66" fill="#a0d1b5"/>
<rect x="116.48" y="508.26" width="14.57" height="7.66" fill="#a0d1b5"/>
<rect x="132.25" y="508.26" width="14.57" height="7.66" fill="#81c9b9"/>
<rect x="148.02" y="508.26" width="14.57" height="7.66" fill="#72c5bc"/>
<rect x="163.79" y="508.26" width="14.57" height="7.66" fill="#72c5bc"/>
<rect x="179.56" y="508.26" width="14.57" height="7.66" fill="#72c5bc"/>
<rect x="195.33" y="508.26" width="14.57" height="7.66" fill="#fe7857"/>
<rect x="211.10" y="508.26" width="14.57" height="7.66" fill="#ff5c42"/>
<rect x="226.87" y="508.26" width="14.57" height="7.66" fill="#ff6e50"/>
<rect x="242.64" y="508.26" width="14.57" height="7.66" fill="#cddeaf"/>
<rect x="258.41" y="508.26" width="14.57" height="7.66" fill="#afd6b3"/>
<rect x="274.18" y="508.26" width="14.57" height="7.66" fill="#81c9b9"/>
<rect x="53.40" y="517.12" width="14.57" height="7.66" fill="#2fb5c6"/>
<rect x="69.17" y="517.12" width="14.57" height="7.66" fill="#50bdc1"/>
<rect x="84.94" y="517.12" width="14.57" height="7.66" fill="#40b9c3"/>
<rect x="100.71" y="517.12" width="14.57" height="7.66" fill="#81c9b9"/>
<rect x="116.48" y="517.12" width="14.57" height="7.66" fill="#72c5bc"/>
<rect x="132.25" y="517.12" width="14.57" height="7.66" fill="#72c5bc"/>
<rect x="148.02" y="517.12" width="14.57" height="7.66" fill="#61c1be"/>
<rect x="163.79" y="517.12" width="14.57" height="7.66" fill="#50bdc1"/>
<rect x="179.56" y="517.12" width="14.57" height="7.66" fill="#61c1be"/>
<rect x="195.33" y="517.12" width="14.57" height="7.66" fill="#ff533d"/>
<rect x="211.10" y="517.12" width="14.57" height="7.66" fill="#ff6e50"/>
<rect x="226.87" y="517.12" width="14.57" height="7.66" fill="#ff6448"/>
<rect x="242.64" y="517.12" width="14.57" height="7.66" fill="#e1e4ac"/>
<rect x="258.41" y="517.12" width="14.57" height="7.66" fill="#ebe7ab"/>
<rect x="274.18" y="517.12" width="14.57" height="7.66" fill="#a0d1b5"/>
<rect x="53.40" y="525.98" width="14.57" height="7.66" fill="#fca679"/>
<rect x="69.17" y="525.98" width="14.57" height="7.66" fill="#fcaf7f"/>
<rect x="84.94" y="525.98" width="14.57" height="7.66" fill="#fabc89"/>
<rect x="100.71" y="525.98" width="14.57" height="7.66" fill="#72c5bc"/>
<rect x="116.48" y="525.98" width="14.57" height="7.66" fill="#e1e4ac"/>
<rect x="132.25" y="525.98" width="14.57" height="7.66" fill="#13abcd"/>
<rect x="148.02" y="525.98" width="14.57" height="7.66" fill="#37b7c5"/>
<rect x="163.79" y="525.98" width="14.57" height="7.66" fill="#0799db"/>
<rect x="179.56" y="525.98" width="14.57" height="7.66" fill="#50bdc1"/>
<rect x="195.33" y="525.98" width="14.57" height="7.66" fill="#fcaf7f"/>
<rect x="211.10" y="525.98" width="14.57" height="7.66" fill="#fd9d73"/>
<rect x="226.87" y="525.98" width="14.57" height="7.66" fill="#ebe7ab"/>
<rect x="242.64" y="525.98" width="14.57" height="7.66" fill="#f4d79d"/>
<rect x="258.41" y="525.98" width="14.57" height="7.66" fill="#13abcd"/>
<rect x="274.18" y="525.98" width="14.57" height="7.66" fill="#e1e4ac"/>
<rect x="53.40" y="534.84" width="14.57" height="7.66" fill="#fd9d73"/>
<rect x="69.17" y="534.84" width="14.57" height="7.66" fill="#e1e4ac"/>
<rect x="84.94" y="534.84" width="14.57" height="7.66" fill="#72c5bc"/>
<rect x="100.71" y="534.84" width="14.57" height="7.66" fill="#fd956c"/>
<rect x="116.48" y="534.84" width="14.57" height="7.66" fill="#ebe7ab"/>
<rect x="132.25" y="534.84" width="14.57" height="7.66" fill="#ebe7ab"/>
<rect x="148.02" y="534.84" width="14.57" height="7.66" fill="#0596de"/>
<rect x="163.79" y="534.84" width="14.57" height="7.66" fill="#48bbc2"/>
<rect x="179.56" y="534.84" width="14.57" height="7.66" fill="#13abcd"/>
<rect x="195.33" y="534.84" width="14.57" height="7.66" fill="#ebe7ab"/>
<rect x="211.10" y="534.84" width="14.57" height="7.66" fill="#fabc89"/>
<rect x="226.87" y="534.84" width="14.57" height="7.66" fill="#f8c38e"/>
<rect x="242.64" y="534.84" width="14.57" height="7.66" fill="#f2dea2"/>
<rect x="258.41" y="534.84" width="14.57" height="7.66" fill="#13abcd"/>
<rect x="274.18" y="534.84" width="14.57" height="7.66" fill="#ebe7ab"/>
<rect x="53.40" y="543.70" width="14.57" height="7.66" fill="#72c5bc"/>
<rect x="69.17" y="543.70" width="14.57" height="7.66" fill="#a0d1b5"/>
<rect x="84.94" y="543.70" width="14.57" height="7.66" fill="#10a6d2"/>
<rect x="100.71" y="543.70" width="14.57" height="7.66" fill="#fcaf7f"/>
<rect x="116.48" y="543.70" width="14.57" height="7.66" fill="#81c9b9"/>
<rect x="132.25" y="543.70" width="14.57" height="7.66" fill="#f8c38e"/>
<rect x="148.02" y="543.70" width="14.57" height="7.66" fill="#13abcd"/>
<rect x="163.79" y="543.70" width="14.57" height="7.66" fill="#d7e1ae"/>
<rect x="179.56" y="543.70" width="14.57" height="7.66" fill="#90cdb7"/>
<rect x="195.33" y="543.70" width="14.57" height="7.66" fill="#cddeaf"/>
<rect x="211.10" y="543.70" width="14.57" height="7.66" fill="#ebe7ab"/>
<rect x="226.87" y="543.70" width="14.57" height="7.66" fill="#afd6b3"/>
<rect x="242.64" y="543.70" width="14.57" height="7.66" fill="#ff4231"/>
<rect x="258.41" y="543.70" width="14.57" height="7.66" fill="#f7c993"/>
<rect x="274.18" y="543.70" width="14.57" height="7.66" fill="#72c5bc"/>
<rect x="53.40" y="552.56" width="14.57" height="7.66" fill="#1eb1c9"/>
<rect x="69.17" y="552.56" width="14.57" height="7.66" fill="#ff6e50"/>
<rect x="84.94" y="552.56" width="14.57" height="7.66" fill="#e1e4ac"/>
<rect x="100.71" y="552.56" width="14.57" height="7.66" fill="#ff3a2c"/>
<rect x="116.48" y="552.56" width="14.57" height="7.66" fill="#81c9b9"/>
<rect x="132.25" y="552.56" width="14.57" height="7.66" fill="#f7c993"/>
<rect x="148.02" y="552.56" width="14.57" height="7.66" fill="#cddeaf"/>
<rect x="163.79" y="552.56" width="14.57" height="7.66" fill="#61c1be"/>
<rect x="179.56" y="552.56" width="14.57" height="7.66" fill="#a0d1b5"/>
<rect x="195.33" y="552.56" width="14.57" height="7.66" fill="#15aecb"/>
<rect x="211.10" y="552.56" width="14.57" height="7.66" fill="#81c9b9"/>
<rect x="226.87" y="552.56" width="14.57" height="7.66" fill="#72c5bc"/>
<rect x="242.64" y="552.56" width="14.57" height="7.66" fill="#61c1be"/>
<rect x="258.41" y="552.56" width="14.57" height="7.66" fill="#f5d098"/>
<rect x="274.18" y="552.56" width="14.57" height="7.66" fill="#72c5bc"/>
<rect x="53.40" y="561.42" width="14.57" height="7.66" fill="#cddeaf"/>
<rect x="69.17" y="561.42" width="14.57" height="7.66" fill="#fd9d73"/>
<rect x="84.94" y="561.42" width="14.57" height="7.66" fill="#d7e1ae"/>
<rect x="100.71" y="561.42" width="14.57" height="7.66" fill="#ff6448"/>
<rect x="116.48" y="561.42" width="14.57" height="7.66" fill="#81c9b9"/>
<rect x="132.25" y="561.42" width="14.57" height="7.66" fill="#cddeaf"/>
<rect x="148.02" y="561.42" width="14.57" height="7.66" fill="#bedab1"/>
<rect x="163.79" y="561.42" width="14.57" height="7.66" fill="#fabc89"/>
<rect x="179.56" y="561.42" width="14.57" height="7.66" fill="#fbb584"/>
<rect x="195.33" y="561.42" width="14.57" height="7.66" fill="#15aecb"/>
<rect x="211.10" y="561.42" width="14.57" height="7.66" fill="#13abcd"/>
<rect x="226.87" y="561.42" width="14.57" height="7.66" fill="#12a8cf"/>
<rect x="242.64" y="561.42" width="14.57" height="7.66" fill="#50bdc1"/>
<rect x="258.41" y="561.42" width="14.57" height="7.66" fill="#ebe7ab"/>
<rect x="274.18" y="561.42" width="14.57" height="7.66" fill="#13abcd"/>
<rect x="53.40" y="570.28" width="14.57" height="7.66" fill="#40b9c3"/>
<rect x="69.17" y="570.28" width="14.57" height="7.66" fill="#50bdc1"/>
<rect x="84.94" y="570.28" width="14.57" height="7.66" fill="#2fb5c6"/>
<rect x="100.71" y="570.28" width="14.57" height="7.66" fill="#72c5bc"/>
<rect x="116.48" y="570.28" width="14.57" height="7.66" fill="#72c5bc"/>
<rect x="132.25" y="570.28" width="14.57" height="7.66" fill="#81c9b9"/>
<rect x="148.02" y="570.28" width="14.57" height="7.66" fill="#fe7857"/>
<rect x="163.79" y="570.28" width="14.57" height="7.66" fill="#ff3a2c"/>
<rect x="179.56" y="570.28" width="14.57" height="7.66" fill="#ff6e50"/>
<rect x="195.33" y="570.28" width="14.57" height="7.66" fill="#61c1be"/>
<rect x="211.10" y="570.28" width="14.57" height="7.66" fill="#61c1be"/>
<rect x="226.87" y="570.28" width="14.57" height="7.66" fill="#61c1be"/>
<rect x="242.64" y="570.28" width="14.57" height="7.66" fill="#81c9b9"/>
<rect x="258.41" y="570.28" width="14.57" height="7.66" fill="#cddeaf"/>
<rect x="274.18" y="570.28" width="14.57" height="7.66" fill="#d7e1ae"/>
<rect x="53.40" y="579.14" width="14.57" height="7.66" fill="#61c1be"/>
<rect x="69.17" y="579.14" width="14.57" height="7.66" fill="#72c5bc"/>
<rect x="84.94" y="579.14" width="14.57" height="7.66" fill="#1eb1c9"/>
<rect x="100.71" y="579.14" width="14.57" height="7.66" fill="#d7e1ae"/>
<rect x="116.48" y="579.14" width="14.57" height="7.66" fill="#afd6b3"/>
<rect x="132.25" y="579.14" width="14.57" height="7.66" fill="#bedab1"/>
<rect x="148.02" y="579.14" width="14.57" height="7.66" fill="#f4d79d"/>
<rect x="163.79" y="579.14" width="14.57" height="7.66" fill="#ff0f0f"/>
<rect x="179.56" y="579.14" width="14.57" height="7.66" fill="#fe825e"/>
<rect x="195.33" y="579.14" width="14.57" height="7.66" fill="#72c5bc"/>
<rect x="211.10" y="579.14" width="14.57" height="7.66" fill="#81c9b9"/>
<rect x="226.87" y="579.14" width="14.57" height="7.66" fill="#90cdb7"/>
<rect x="242.64" y="579.14" width="14.57" height="7.66" fill="#e1e4ac"/>
<rect x="258.41" y="579.14" width="14.57" height="7.66" fill="#72c5bc"/>
<rect x="274.18" y="579.14" width="14.57" height="7.66" fill="#1eb1c9"/>
<rect x="53.40" y="588.00" width="14.57" height="7.66" fill="#cddeaf"/>
<rect x="69.17" y="588.00" width="14.57" height="7.66" fill="#50bdc1"/>
<rect x="84.94" y="588.00" width="14.57" height="7.66" fill="#a0d1b5"/>
<rect x="100.71" y="588.00" width="14.57" height="7.66" fill="#f5d098"/>
<rect x="116.48" y="588.00" width="14.57" height="7.66" fill="#a0d1b5"/>
<rect x="132.25" y="588.00" width="14.57" height="7.66" fill="#cddeaf"/>
<rect x="148.02" y="588.00" width="14.57" height="7.66" fill="#f1e4a7"/>
<rect x="163.79" y="588.00" width="14.57" height="7.66" fill="#ff1815"/>
<rect x="179.56" y="588.00" width="14.57" height="7.66" fill="#fd8b65"/>
<rect x="195.33" y="588.00" width="14.57" height="7.66" fill="#50bdc1"/>
<rect x="211.10" y="588.00" width="14.57" height="7.66" fill="#15aecb"/>
<rect x="226.87" y="588.00" width="14.57" height="7.66" fill="#1eb1c9"/>
<rect x="242.64" y="588.00" width="14.57" height="7.66" fill="#90cdb7"/>
<rect x="258.41" y="588.00" width="14.57" height="7.66" fill="#81c9b9"/>
<rect x="274.18" y="588.00" width="14.57" height="7.66" fill="#1eb1c9"/>
<rect x="53.40" y="596.86" width="14.57" height="7.66" fill="#099cd9"/>
<rect x="69.17" y="596.86" width="14.57" height="7.66" fill="#099cd9"/>
<rect x="84.94" y="596.86" width="14.57" height="7.66" fill="#099cd9"/>
<rect x="100.71" y="596.86" width="14.57" height="7.66" fill="#f8c38e"/>
<rect x="116.48" y="596.86" width="14.57" height="7.66" fill="#f8c38e"/>
<rect x="132.25" y="596.86" width="14.57" height="7.66" fill="#f7c993"/>
<rect x="148.02" y="596.86" width="14.57" height="7.66" fill="#f1e4a7"/>
<rect x="163.79" y="596.86" width="14.57" height="7.66" fill="#fd956c"/>
<rect x="179.56" y="596.86" width="14.57" height="7.66" fill="#fd956c"/>
<rect x="195.33" y="596.86" width="14.57" height="7.66" fill="#ebe7ab"/>
<rect x="211.10" y="596.86" width="14.57" height="7.66" fill="#ebe7ab"/>
<rect x="226.87" y="596.86" width="14.57" height="7.66" fill="#ebe7ab"/>
<rect x="242.64" y="596.86" width="14.57" height="7.66" fill="#15aecb"/>
<rect x="258.41" y="596.86" width="14.57" height="7.66" fill="#a0d1b5"/>
<rect x="274.18" y="596.86" width="14.57" height="7.66" fill="#50bdc1"/>
<rect x="53.40" y="605.72" width="14.57" height="7.66" fill="#099cd9"/>
<rect x="69.17" y="605.72" width="14.57" height="7.66" fill="#099cd9"/>
<rect x="84.94" y="605.72" width="14.57" height="7.66" fill="#099cd9"/>
<rect x="100.71" y="605.72" width="14.57" height="7.66" fill="#afd6b3"/>
<rect x="116.48" y="605.72" width="14.57" height="7.66" fill="#a0d1b5"/>
<rect x="132.25" y="605.72" width="14.57" height="7.66" fill="#81c9b9"/>
<rect x="148.02" y="605.72" width="14.57" height="7.66" fill="#ebe7ab"/>
<rect x="163.79" y="605.72" width="14.57" height="7.66" fill="#f7c993"/>
<rect x="179.56" y="605.72" width="14.57" height="7.66" fill="#ebe7ab"/>
<rect x="195.33" y="605.72" width="14.57" height="7.66" fill="#fabc89"/>
<rect x="211.10" y="605.72" width="14.57" height="7.66" fill="#fabc89"/>
<rect x="226.87" y="605.72" width="14.57" height="7.66" fill="#fbb584"/>
<rect x="242.64" y="605.72" width="14.57" height="7.66" fill="#cddeaf"/>
<rect x="258.41" y="605.72" width="14.57" height="7.66" fill="#fabc89"/>
<rect x="274.18" y="605.72" width="14.57" height="7.66" fill="#fd956c"/>
<rect x="53.40" y="614.58" width="14.57" height="7.66" fill="#099cd9"/>
<rect x="69.17" y="614.58" width="14.57" height="7.66" fill="#099cd9"/>
<rect x="84.94" y="614.58" width="14.57" height="7.66" fill="#099cd9"/>
<rect x="100.71" y="614.58" width="14.57" height="7.66" fill="#d7e1ae"/>
<rect x="116.48" y="614.58" width="14.57" height="7.66" fill="#e1e4ac"/>
<rect x="132.25" y="614.58" width="14.57" height="7.66" fill="#d7e1ae"/>
<rect x="148.02" y="614.58" width="14.57" height="7.66" fill="#f1e4a7"/>
<rect x="163.79" y="614.58" width="14.57" height="7.66" fill="#fabc89"/>
<rect x="179.56" y="614.58" width="14.57" height="7.66" fill="#f7c993"/>
<rect x="195.33" y="614.58" width="14.57" height="7.66" fill="#f8c38e"/>
<rect x="211.10" y="614.58" width="14.57" height="7.66" fill="#f7c993"/>
<rect x="226.87" y="614.58" width="14.57" height="7.66" fill="#f7c993"/>
<rect x="242.64" y="614.58" width="14.57" height="7.66" fill="#ebe7ab"/>
<rect x="258.41" y="614.58" width="14.57" height="7.66" fill="#f7c993"/>
<rect x="274.18" y="614.58" width="14.57" height="7.66" fill="#f8c38e"/>
<rect x="53.40" y="623.44" width="14.57" height="7.66" fill="#099cd9"/>
<rect x="69.17" y="623.44" width="14.57" height="7.66" fill="#099cd9"/>
<rect x="84.94" y="623.44" width="14.57" height="7.66" fill="#099cd9"/>
<rect x="100.71" y="623.44" width="14.57" height="7.66" fill="#d7e1ae"/>
<rect x="116.48" y="623.44" width="14.57" height="7.66" fill="#e1e4ac"/>
<rect x="132.25" y="623.44" width="14.57" height="7.66" fill="#cddeaf"/>
<rect x="148.02" y="623.44" width="14.57" height="7.66" fill="#f5d49b"/>
<rect x="163.79" y="623.44" width="14.57" height="7.66" fill="#fbb584"/>
<rect x="179.56" y="623.44" width="14.57" height="7.66" fill="#fabc89"/>
<rect x="195.33" y="623.44" width="14.57" height="7.66" fill="#f1e4a7"/>
<rect x="211.10" y="623.44" width="14.57" height="7.66" fill="#f1e4a7"/>
<rect x="226.87" y="623.44" width="14.57" height="7.66" fill="#f1e4a7"/>
<rect x="242.64" y="623.44" width="14.57" height="7.66" fill="#f1e4a7"/>
<rect x="258.41" y="623.44" width="14.57" height="7.66" fill="#f4d79d"/>
<rect x="274.18" y="623.44" width="14.57" height="7.66" fill="#f5d098"/>
<rect x="53.40" y="632.30" width="14.57" height="7.66" fill="#099cd9"/>
<rect x="69.17" y="632.30" width="14.57" height="7.66" fill="#099cd9"/>
<rect x="84.94" y="632.30" width="14.57" height="7.66" fill="#099cd9"/>
<rect x="100.71" y="632.30" width="14.57" height="7.66" fill="#e1e4ac"/>
<rect x="116.48" y="632.30" width="14.57" height="7.66" fill="#ebe7ab"/>
<rect x="132.25" y="632.30" width="14.57" height="7.66" fill="#e1e4ac"/>
<rect x="148.02" y="632.30" width="14.57" height="7.66" fill="#f4d79d"/>
<rect x="163.79" y="632.30" width="14.57" height="7.66" fill="#fabc89"/>
<rect x="179.56" y="632.30" width="14.57" height="7.66" fill="#f8c38e"/>
<rect x="195.33" y="632.30" width="14.57" height="7.66" fill="#f1e4a7"/>
<rect x="211.10" y="632.30" width="14.57" height="7.66" fill="#f1e4a7"/>
<rect x="226.87" y="632.30" width="14.57" height="7.66" fill="#f1e4a7"/>
<rect x="242.64" y="632.30" width="14.57" height="7.66" fill="#e1e4ac"/>
<rect x="258.41" y="632.30" width="14.57" height="7.66" fill="#f1e4a7"/>
<rect x="274.18" y="632.30" width="14.57" height="7.66" fill="#f1e4a7"/>
<rect x="53.40" y="641.16" width="14.57" height="7.66" fill="#10a6d2"/>
<rect x="69.17" y="641.16" width="14.57" height="7.66" fill="#10a6d2"/>
<rect x="84.94" y="641.16" width="14.57" height="7.66" fill="#10a6d2"/>
<rect x="100.71" y="641.16" width="14.57" height="7.66" fill="#90cdb7"/>
<rect x="116.48" y="641.16" width="14.57" height="7.66" fill="#90cdb7"/>
<rect x="132.25" y="641.16" width="14.57" height="7.66" fill="#81c9b9"/>
<rect x="148.02" y="641.16" width="14.57" height="7.66" fill="#f2dea2"/>
<rect x="163.79" y="641.16" width="14.57" height="7.66" fill="#fe825e"/>
<rect x="179.56" y="641.16" width="14.57" height="7.66" fill="#fd956c"/>
<rect x="195.33" y="641.16" width="14.57" height="7.66" fill="#b6d8b2"/>
<rect x="211.10" y="641.16" width="14.57" height="7.66" fill="#b6d8b2"/>
<rect x="226.87" y="641.16" width="14.57" height="7.66" fill="#b6d8b2"/>
<rect x="242.64" y="641.16" width="14.57" height="7.66" fill="#f8c38e"/>
<rect x="258.41" y="641.16" width="14.57" height="7.66" fill="#f8c38e"/>
<rect x="274.18" y="641.16" width="14.57" height="7.66" fill="#fd8b65"/>
<rect x="53.40" y="650.02" width="14.57" height="7.66" fill="#0ea3d4"/>
<rect x="69.17" y="650.02" width="14.57" height="7.66" fill="#0ea3d4"/>
<rect x="84.94" y="650.02" width="14.57" height="7.66" fill="#0ea3d4"/>
<rect x="100.71" y="650.02" width="14.57" height="7.66" fill="#cddeaf"/>
<rect x="116.48" y="650.02" width="14.57" height="7.66" fill="#e1e4ac"/>
<rect x="132.25" y="650.02" width="14.57" height="7.66" fill="#bedab1"/>
<rect x="148.02" y="650.02" width="14.57" height="7.66" fill="#f7c993"/>
<rect x="163.79" y="650.02" width="14.57" height="7.66" fill="#fe825e"/>
<rect x="179.56" y="650.02" width="14.57" height="7.66" fill="#fd8b65"/>
<rect x="195.33" y="650.02" width="14.57" height="7.66" fill="#ebe7ab"/>
<rect x="211.10" y="650.02" width="14.57" height="7.66" fill="#f1e4a7"/>
<rect x="226.87" y="650.02" width="14.57" height="7.66" fill="#ebe7ab"/>
<rect x="242.64" y="650.02" width="14.57" height="7.66" fill="#72c5bc"/>
<rect x="258.41" y="650.02" width="14.57" height="7.66" fill="#bedab1"/>
<rect x="274.18" y="650.02" width="14.57" height="7.66" fill="#bedab1"/>
<rect x="53.40" y="658.88" width="14.57" height="7.66" fill="#12a8cf"/>
<rect x="69.17" y="658.88" width="14.57" height="7.66" fill="#12a8cf"/>
<rect x="84.94" y="658.88" width="14.57" height="7.66" fill="#12a8cf"/>
<rect x="100.71" y="658.88" width="14.57" height="7.66" fill="#90cdb7"/>
<rect x="116.48" y="658.88" width="14.57" height="7.66" fill="#90cdb7"/>
<rect x="132.25" y="658.88" width="14.57" height="7.66" fill="#81c9b9"/>
<rect x="148.02" y="658.88" width="14.57" height="7.66" fill="#f8c691"/>
<rect x="163.79" y="658.88" width="14.57" height="7.66" fill="#ff533d"/>
<rect x="179.56" y="658.88" width="14.57" height="7.66" fill="#fe825e"/>
<rect x="195.33" y="658.88" width="14.57" height="7.66" fill="#cddeaf"/>
<rect x="211.10" y="658.88" width="14.57" height="7.66" fill="#e1e4ac"/>
<rect x="226.87" y="658.88" width="14.57" height="7.66" fill="#d7e1ae"/>
<rect x="242.64" y="658.88" width="14.57" height="7.66" fill="#90cdb7"/>
<rect x="258.41" y="658.88" width="14.57" height="7.66" fill="#f2dea2"/>
<rect x="274.18" y="658.88" width="14.57" height="7.66" fill="#d7e1ae"/>
<rect x="53.40" y="667.74" width="14.57" height="7.66" fill="#12a8cf"/>
<rect x="69.17" y="667.74" width="14.57" height="7.66" fill="#12a8cf"/>
<rect x="84.94" y="667.74" width="14.57" height="7.66" fill="#12a8cf"/>
<rect x="100.71" y="667.74" width="14.57" height="7.66" fill="#a0d1b5"/>
<rect x="116.48" y="667.74" width="14.57" height="7.66" fill="#a0d1b5"/>
<rect x="132.25" y="667.74" width="14.57" height="7.66" fill="#90cdb7"/>
<rect x="148.02" y="667.74" width="14.57" height="7.66" fill="#fbb987"/>
<rect x="163.79" y="667.74" width="14.57" height="7.66" fill="#ff6e50"/>
<rect x="179.56" y="667.74" width="14.57" height="7.66" fill="#fe825e"/>
<rect x="195.33" y="667.74" width="14.57" height="7.66" fill="#afd6b3"/>
<rect x="211.10" y="667.74" width="14.57" height="7.66" fill="#bedab1"/>
<rect x="226.87" y="667.74" width="14.57" height="7.66" fill="#bedab1"/>
<rect x="242.64" y="667.74" width="14.57" height="7.66" fill="#61c1be"/>
<rect x="258.41" y="667.74" width="14.57" height="7.66" fill="#f4d79d"/>
<rect x="274.18" y="667.74" width="14.57" height="7.66" fill="#bedab1"/>
<rect x="53.40" y="676.60" width="14.57" height="7.66" fill="#10a6d2"/>
<rect x="69.17" y="676.60" width="14.57" height="7.66" fill="#10a6d2"/>
<rect x="84.94" y="676.60" width="14.57" height="7.66" fill="#10a6d2"/>
<rect x="100.71" y="676.60" width="14.57" height="7.66" fill="#bedab1"/>
<rect x="116.48" y="676.60" width="14.57" height="7.66" fill="#cddeaf"/>
<rect x="132.25" y="676.60" width="14.57" height="7.66" fill="#a0d1b5"/>
<rect x="148.02" y="676.60" width="14.57" height="7.66" fill="#fabc89"/>
<rect x="163.79" y="676.60" width="14.57" height="7.66" fill="#ff5c42"/>
<rect x="179.56" y="676.60" width="14.57" height="7.66" fill="#fe7857"/>
<rect x="195.33" y="676.60" width="14.57" height="7.66" fill="#a0d1b5"/>
<rect x="211.10" y="676.60" width="14.57" height="7.66" fill="#afd6b3"/>
<rect x="226.87" y="676.60" width="14.57" height="7.66" fill="#afd6b3"/>
<rect x="242.64" y="676.60" width="14.57" height="7.66" fill="#81c9b9"/>
<rect x="258.41" y="676.60" width="14.57" height="7.66" fill="#e1e4ac"/>
<rect x="274.18" y="676.60" width="14.57" height="7.66" fill="#cddeaf"/>
<text x="291.2" y="419.4" font-size="8.5" fill="#111" stroke="#111" stroke-width="0.15">Procyanidin B1</text>
<text x="291.2" y="428.3" font-size="8.5" fill="#111" stroke="#111" stroke-width="0.15">Procyanidin B3</text>
<text x="291.2" y="437.1" font-size="8.5" fill="#111" stroke="#111" stroke-width="0.15">Kaempferol-3-O-rutinoside</text>
<text x="291.2" y="446.0" font-size="8.5" fill="#111" stroke="#111" stroke-width="0.15">Quercetin-3-O-glucoside</text>
<text x="291.2" y="454.9" font-size="8.5" fill="#111" stroke="#111" stroke-width="0.15">Dihydrokaempferol</text>
<text x="291.2" y="463.7" font-size="8.5" fill="#111" stroke="#111" stroke-width="0.15">Cyanidin-3-(6-O-p-caffeoyl)-glucoside</text>
<text x="291.2" y="472.6" font-size="8.5" fill="#111" stroke="#111" stroke-width="0.15">Petunidin-3-O-(6-O-p-coumaroyl)-glucoside</text>
<text x="291.2" y="481.4" font-size="8.5" fill="#111" stroke="#111" stroke-width="0.15">Naringenin</text>
<text x="291.2" y="490.3" font-size="8.5" fill="#111" stroke="#111" stroke-width="0.15">Delphinidin-3-O-sophoroside</text>
<text x="291.2" y="499.2" font-size="8.5" fill="#111" stroke="#111" stroke-width="0.15">Pelargonidin-3-O-(6-O-p-coumaroyl)-glucoside</text>
<text x="291.2" y="508.0" font-size="8.5" fill="#111" stroke="#111" stroke-width="0.15">Naringenin-7-O-glucoside</text>
<text x="291.2" y="516.9" font-size="8.5" fill="#111" stroke="#111" stroke-width="0.15">Delphinidin-3-O-(6-O-malonyl-beta-D-glucoside)</text>
<text x="291.2" y="525.8" font-size="8.5" fill="#111" stroke="#111" stroke-width="0.15">Delphinidin-3-O-(6-O-malonyl)-glucoside-3'-glucoside</text>
<text x="291.2" y="534.6" font-size="8.5" fill="#111" stroke="#111" stroke-width="0.15">Delphinidin-3-O-rutinoside-5-O-glucoside</text>
<text x="291.2" y="541.9" font-size="8.5" fill="#111" stroke="#111" stroke-width="0.15">Afzelin</text>
<text x="291.2" y="552.3" font-size="8.5" fill="#111" stroke="#111" stroke-width="0.15">Pelargonidin</text>
<text x="291.2" y="561.2" font-size="8.5" fill="#111" stroke="#111" stroke-width="0.15">Delphinidin-3-O-(6-O-acetyl)-glucoside</text>
<text x="291.2" y="569.1" font-size="8.5" fill="#111" stroke="#111" stroke-width="0.15">Rutin</text>
<text x="291.2" y="578.9" font-size="8.5" fill="#111" stroke="#111" stroke-width="0.15">Cyanidin-3-O-arabinoside</text>
<text x="291.2" y="587.8" font-size="8.5" fill="#111" stroke="#111" stroke-width="0.15">Delphinidin-3-O-5-O-(6-O-coumaroyl)-diglucoside</text>
<text x="291.2" y="596.6" font-size="8.5" fill="#111" stroke="#111" stroke-width="0.15">Delphinidin-3-O-galactoside</text>
<text x="291.2" y="605.5" font-size="8.5" fill="#111" stroke="#111" stroke-width="0.15">Delphinidin-3-O-rutinoside</text>
<text x="291.2" y="614.3" font-size="8.5" fill="#111" stroke="#111" stroke-width="0.15">Pelargonidin-3-O-glucoside</text>
<text x="291.2" y="623.2" font-size="8.5" fill="#111" stroke="#111" stroke-width="0.15">Pelargonidin-3-O-rutinoside</text>
<text x="291.2" y="632.1" font-size="8.5" fill="#111" stroke="#111" stroke-width="0.15">Cyanidin-3-O-rutinoside</text>
<text x="291.2" y="640.9" font-size="8.5" fill="#111" stroke="#111" stroke-width="0.15">Cyanidin-3-O-glucoside</text>
<text x="291.2" y="648.5" font-size="8.5" fill="#111" stroke="#111" stroke-width="0.15">Peonidin-3-O-rutinoside</text>
<text x="291.2" y="658.6" font-size="8.5" fill="#111" stroke="#111" stroke-width="0.15">Cyanidin-3-O-sambubioside</text>
<text x="291.2" y="667.5" font-size="8.5" fill="#111" stroke="#111" stroke-width="0.15">Cyanidin-3,5-O-diglucoside</text>
<text x="291.2" y="676.4" font-size="8.5" fill="#111" stroke="#111" stroke-width="0.15">Cyanidin-3-O-galactoside</text>
<text x="291.2" y="685.2" font-size="8.5" fill="#111" stroke="#111" stroke-width="0.15">Cyanidin-3-O-xyloside</text>
<text transform="translate(65.9,691.5) rotate(-45)" font-size="8.0" text-anchor="end" fill="#111" stroke="#111" stroke-width="0.2">LFC-1</text>
<text transform="translate(81.7,691.5) rotate(-45)" font-size="8.0" text-anchor="end" fill="#111" stroke="#111" stroke-width="0.2">LFC-2</text>
<text transform="translate(97.4,691.5) rotate(-45)" font-size="8.0" text-anchor="end" fill="#111" stroke="#111" stroke-width="0.2">LFC-3</text>
<text transform="translate(113.2,691.5) rotate(-45)" font-size="8.0" text-anchor="end" fill="#111" stroke="#111" stroke-width="0.2">HBG-3</text>
<text transform="translate(129.0,691.5) rotate(-45)" font-size="8.0" text-anchor="end" fill="#111" stroke="#111" stroke-width="0.2">HBG-1</text>
<text transform="translate(144.7,691.5) rotate(-45)" font-size="8.0" text-anchor="end" fill="#111" stroke="#111" stroke-width="0.2">HBG-2</text>
<text transform="translate(160.5,691.5) rotate(-45)" font-size="8.0" text-anchor="end" fill="#111" stroke="#111" stroke-width="0.2">JFC-1</text>
<text transform="translate(176.3,691.5) rotate(-45)" font-size="8.0" text-anchor="end" fill="#111" stroke="#111" stroke-width="0.2">JFC-2</text>
<text transform="translate(192.0,691.5) rotate(-45)" font-size="8.0" text-anchor="end" fill="#111" stroke="#111" stroke-width="0.2">JFC-3</text>
<text transform="translate(207.8,691.5) rotate(-45)" font-size="8.0" text-anchor="end" fill="#111" stroke="#111" stroke-width="0.2">FHXN-2</text>
<text transform="translate(223.6,691.5) rotate(-45)" font-size="8.0" text-anchor="end" fill="#111" stroke="#111" stroke-width="0.2">FHXN-1</text>
<text transform="translate(239.4,691.5) rotate(-45)" font-size="8.0" text-anchor="end" fill="#111" stroke="#111" stroke-width="0.2">FHXN-3</text>
<text transform="translate(255.1,691.5) rotate(-45)" font-size="8.0" text-anchor="end" fill="#111" stroke="#111" stroke-width="0.2">BSH-3</text>
<text transform="translate(270.9,691.5) rotate(-45)" font-size="8.0" text-anchor="end" fill="#111" stroke="#111" stroke-width="0.2">BSH-1</text>
<text transform="translate(286.7,691.5) rotate(-45)" font-size="8.0" text-anchor="end" fill="#111" stroke="#111" stroke-width="0.2">BSH-2</text>
<path d="M76.5 410.2L76.5 385.9 M92.2 410.2L92.2 385.9 M76.5 385.9L92.2 385.9 M60.7 410.2L60.7 377.7 M84.3 385.9L84.3 377.7 M60.7 377.7L84.3 377.7 M123.8 410.2L123.8 402.3 M139.5 410.2L139.5 402.3 M123.8 402.3L139.5 402.3 M108.0 410.2L108.0 394.1 M131.7 402.3L131.7 394.1 M108.0 394.1L131.7 394.1 M171.1 410.2L171.1 402.3 M186.8 410.2L186.8 402.3 M171.1 402.3L186.8 402.3 M155.3 410.2L155.3 394.1 M179.0 402.3L179.0 394.1 M155.3 394.1L179.0 394.1 M119.8 394.1L119.8 385.9 M167.1 394.1L167.1 385.9 M119.8 385.9L167.1 385.9 M218.4 410.2L218.4 402.3 M234.2 410.2L234.2 402.3 M218.4 402.3L234.2 402.3 M202.6 410.2L202.6 394.1 M226.3 402.3L226.3 394.1 M202.6 394.1L226.3 394.1 M265.7 410.2L265.7 402.3 M281.5 410.2L281.5 402.3 M265.7 402.3L281.5 402.3 M249.9 410.2L249.9 394.1 M273.6 402.3L273.6 394.1 M249.9 394.1L273.6 394.1 M214.4 394.1L214.4 385.9 M261.8 394.1L261.8 385.9 M214.4 385.9L261.8 385.9 M143.5 385.9L143.5 377.7 M238.1 385.9L238.1 377.7 M143.5 377.7L238.1 377.7 M72.5 377.7L72.5 369.5 M190.8 377.7L190.8 369.5 M72.5 369.5L190.8 369.5 M52.8 414.6L29.5 414.6 M52.8 423.5L29.5 423.5 M29.5 414.6L29.5 423.5 M52.8 432.3L32.8 432.3 M52.8 441.2L32.8 441.2 M32.8 432.3L32.8 441.2 M52.8 458.9L36.1 458.9 M52.8 467.8L36.1 467.8 M36.1 458.9L36.1 467.8 M52.8 450.1L32.8 450.1 M36.1 463.4L32.8 463.4 M32.8 450.1L32.8 463.4 M32.8 436.8L29.5 436.8 M32.8 456.7L29.5 456.7 M29.5 436.8L29.5 456.7 M29.5 419.1L26.2 419.1 M29.5 446.7L26.2 446.7 M26.2 419.1L26.2 446.7 M52.8 485.5L29.5 485.5 M52.8 494.4L29.5 494.4 M29.5 485.5L29.5 494.4 M52.8 476.6L26.2 476.6 M29.5 489.9L26.2 489.9 M26.2 476.6L26.2 489.9 M26.2 432.9L22.8 432.9 M26.2 483.3L22.8 483.3 M22.8 432.9L22.8 483.3 M52.8 512.1L32.8 512.1 M52.8 521.0L32.8 521.0 M32.8 512.1L32.8 521.0 M52.8 503.2L29.5 503.2 M32.8 516.5L29.5 516.5 M29.5 503.2L29.5 516.5 M52.8 529.8L29.5 529.8 M52.8 538.7L29.5 538.7 M29.5 529.8L29.5 538.7 M29.5 509.9L26.2 509.9 M29.5 534.2L26.2 534.2 M26.2 509.9L26.2 534.2 M52.8 556.4L32.8 556.4 M52.8 565.2L32.8 565.2 M32.8 556.4L32.8 565.2 M52.8 547.5L29.5 547.5 M32.8 560.8L29.5 560.8 M29.5 547.5L29.5 560.8 M52.8 583.0L36.1 583.0 M52.8 591.8L36.1 591.8 M36.1 583.0L36.1 591.8 M52.8 574.1L32.8 574.1 M36.1 587.4L32.8 587.4 M32.8 574.1L32.8 587.4 M52.8 627.3L46.1 627.3 M52.8 636.1L46.1 636.1 M46.1 627.3L46.1 636.1 M52.8 618.4L42.8 618.4 M46.1 631.7L42.8 631.7 M42.8 618.4L42.8 631.7 M52.8 609.5L39.5 609.5 M42.8 625.1L39.5 625.1 M39.5 609.5L39.5 625.1 M52.8 671.6L49.5 671.6 M52.8 680.4L49.5 680.4 M49.5 671.6L49.5 680.4 M52.8 662.7L46.1 662.7 M49.5 676.0L46.1 676.0 M46.1 662.7L46.1 676.0 M52.8 653.8L42.8 653.8 M46.1 669.4L42.8 669.4 M42.8 653.8L42.8 669.4 M52.8 645.0L39.5 645.0 M42.8 661.6L39.5 661.6 M39.5 645.0L39.5 661.6 M39.5 617.3L36.1 617.3 M39.5 653.3L36.1 653.3 M36.1 617.3L36.1 653.3 M52.8 600.7L32.8 600.7 M36.1 635.3L32.8 635.3 M32.8 600.7L32.8 635.3 M32.8 580.8L29.5 580.8 M32.8 618.0L29.5 618.0 M29.5 580.8L29.5 618.0 M29.5 554.2L26.2 554.2 M29.5 599.4L26.2 599.4 M26.2 554.2L26.2 599.4 M26.2 522.1L22.8 522.1 M26.2 576.8L22.8 576.8 M22.8 522.1L22.8 576.8 M22.8 458.1L19.5 458.1 M22.8 549.4L19.5 549.4 M19.5 458.1L19.5 549.4" fill="none" stroke="#2e2e2e" stroke-width="1.0" stroke-linecap="square"/>
<defs><linearGradient id="cb" x1="0" y1="1" x2="0" y2="0">
<stop offset="0.0000" stop-color="rgb(25, 125, 235)"/>
<stop offset="0.1667" stop-color="rgb(5, 150, 222)"/>
<stop offset="0.3333" stop-color="rgb(22, 175, 202)"/>
<stop offset="0.4167" stop-color="rgb(118, 198, 187)"/>
<stop offset="0.5000" stop-color="rgb(205, 222, 175)"/>
<stop offset="0.5500" stop-color="rgb(240, 232, 170)"/>
<stop offset="0.6667" stop-color="rgb(252, 178, 130)"/>
<stop offset="0.8333" stop-color="rgb(255, 100, 72)"/>
<stop offset="1.0000" stop-color="rgb(255, 15, 15)"/>
</linearGradient></defs>
<rect x="495" y="386.8" width="11.3" height="92.09999999999997" fill="url(#cb)"/>
<line x1="506.3" y1="386.8" x2="506.3" y2="478.9" stroke="#111" stroke-width="0.9"/>
<line x1="506.3" y1="386.8" x2="508.5" y2="386.8" stroke="#111" stroke-width="0.9"/>
<text x="510.2" y="390.0" font-size="7.1" fill="#111">3.00</text>
<line x1="506.3" y1="402.1" x2="508.5" y2="402.1" stroke="#111" stroke-width="0.9"/>
<text x="510.2" y="405.3" font-size="7.1" fill="#111">2.00</text>
<line x1="506.3" y1="417.5" x2="508.5" y2="417.5" stroke="#111" stroke-width="0.9"/>
<text x="510.2" y="420.7" font-size="7.1" fill="#111">1.00</text>
<line x1="506.3" y1="432.9" x2="508.5" y2="432.9" stroke="#111" stroke-width="0.9"/>
<text x="510.2" y="436.1" font-size="7.1" fill="#111">0.00</text>
<line x1="506.3" y1="448.2" x2="508.5" y2="448.2" stroke="#111" stroke-width="0.9"/>
<text x="510.2" y="451.4" font-size="7.1" fill="#111">-1.00</text>
<line x1="506.3" y1="463.5" x2="508.5" y2="463.5" stroke="#111" stroke-width="0.9"/>
<text x="510.2" y="466.7" font-size="7.1" fill="#111">-2.00</text>
<line x1="506.3" y1="478.9" x2="508.5" y2="478.9" stroke="#111" stroke-width="0.9"/>
<text x="510.2" y="482.1" font-size="7.1" fill="#111">-3.00</text>
</g>
<text x="4.6" y="14.7" font-size="11.7" font-weight="bold" fill="#111">A</text>
<text x="223.8" y="14.8" font-size="11.7" font-weight="bold" fill="#111">B</text>
<text x="4.3" y="185" font-size="11.7" font-weight="bold" fill="#111">C</text>
<text x="224.2" y="185" font-size="11.7" font-weight="bold" fill="#111">D</text>
<text x="3.3" y="347.5" font-size="11.7" font-weight="bold" fill="#111">E</text>
</svg>
</body></html>
